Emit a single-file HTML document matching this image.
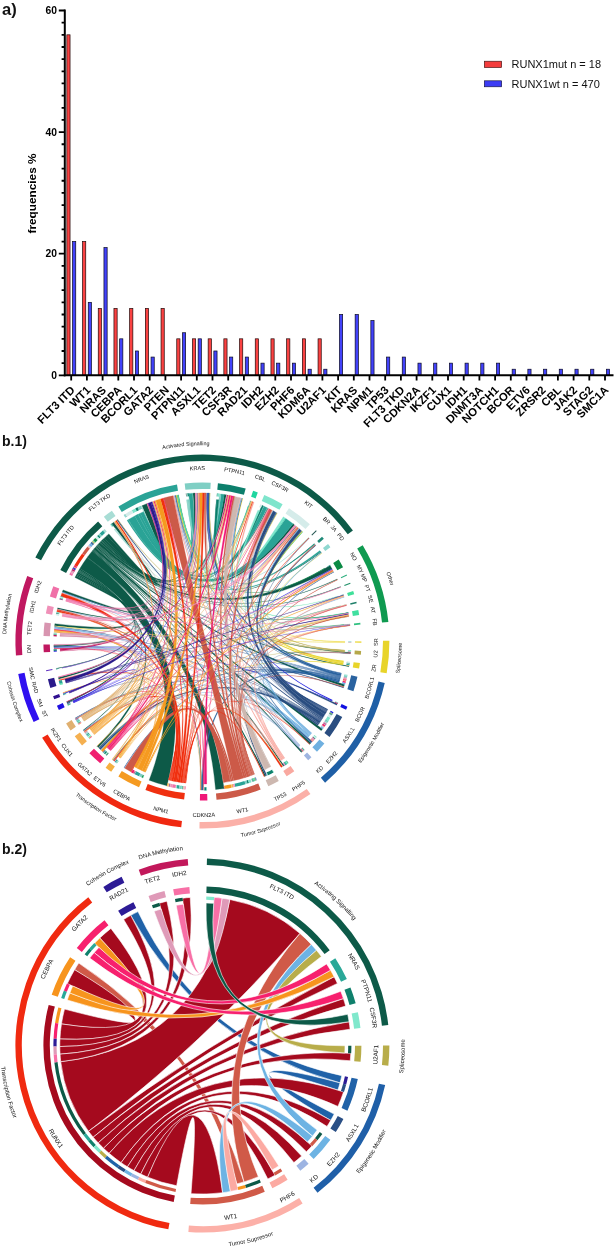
<!DOCTYPE html>
<html><head><meta charset="utf-8"><title>Figure</title>
<style>html,body{margin:0;padding:0;background:#fff}svg{display:block}</style></head>
<body>
<svg width="615" height="1248" viewBox="0 0 615 1248">
<rect width="615" height="1248" fill="#fff"/>
<g font-family="Liberation Sans, Arial, sans-serif">
<text x="2" y="14.8" font-size="16.5" font-weight="bold" fill="#111">a)</text>
<rect x="66.85" y="34.82" width="3.2" height="340.48" fill="#fa4242" stroke="#200808" stroke-width="0.7"/>
<rect x="72.55" y="241.54" width="3.2" height="133.76" fill="#4242fa" stroke="#080820" stroke-width="0.7"/>
<rect x="82.55" y="241.54" width="3.2" height="133.76" fill="#fa4242" stroke="#200808" stroke-width="0.7"/>
<rect x="88.25" y="302.34" width="3.2" height="72.96" fill="#4242fa" stroke="#080820" stroke-width="0.7"/>
<rect x="98.25" y="308.42" width="3.2" height="66.88" fill="#fa4242" stroke="#200808" stroke-width="0.7"/>
<rect x="103.95" y="247.62" width="3.2" height="127.68" fill="#4242fa" stroke="#080820" stroke-width="0.7"/>
<rect x="113.95" y="308.42" width="3.2" height="66.88" fill="#fa4242" stroke="#200808" stroke-width="0.7"/>
<rect x="119.65" y="338.82" width="3.2" height="36.48" fill="#4242fa" stroke="#080820" stroke-width="0.7"/>
<rect x="129.65" y="308.42" width="3.2" height="66.88" fill="#fa4242" stroke="#200808" stroke-width="0.7"/>
<rect x="135.35" y="350.98" width="3.2" height="24.32" fill="#4242fa" stroke="#080820" stroke-width="0.7"/>
<rect x="145.35" y="308.42" width="3.2" height="66.88" fill="#fa4242" stroke="#200808" stroke-width="0.7"/>
<rect x="151.05" y="357.06" width="3.2" height="18.24" fill="#4242fa" stroke="#080820" stroke-width="0.7"/>
<rect x="161.05" y="308.42" width="3.2" height="66.88" fill="#fa4242" stroke="#200808" stroke-width="0.7"/>
<rect x="176.75" y="338.82" width="3.2" height="36.48" fill="#fa4242" stroke="#200808" stroke-width="0.7"/>
<rect x="182.45" y="332.74" width="3.2" height="42.56" fill="#4242fa" stroke="#080820" stroke-width="0.7"/>
<rect x="192.45" y="338.82" width="3.2" height="36.48" fill="#fa4242" stroke="#200808" stroke-width="0.7"/>
<rect x="198.15" y="338.82" width="3.2" height="36.48" fill="#4242fa" stroke="#080820" stroke-width="0.7"/>
<rect x="208.15" y="338.82" width="3.2" height="36.48" fill="#fa4242" stroke="#200808" stroke-width="0.7"/>
<rect x="213.85" y="350.98" width="3.2" height="24.32" fill="#4242fa" stroke="#080820" stroke-width="0.7"/>
<rect x="223.85" y="338.82" width="3.2" height="36.48" fill="#fa4242" stroke="#200808" stroke-width="0.7"/>
<rect x="229.55" y="357.06" width="3.2" height="18.24" fill="#4242fa" stroke="#080820" stroke-width="0.7"/>
<rect x="239.55" y="338.82" width="3.2" height="36.48" fill="#fa4242" stroke="#200808" stroke-width="0.7"/>
<rect x="245.25" y="357.06" width="3.2" height="18.24" fill="#4242fa" stroke="#080820" stroke-width="0.7"/>
<rect x="255.25" y="338.82" width="3.2" height="36.48" fill="#fa4242" stroke="#200808" stroke-width="0.7"/>
<rect x="260.95" y="363.14" width="3.2" height="12.16" fill="#4242fa" stroke="#080820" stroke-width="0.7"/>
<rect x="270.95" y="338.82" width="3.2" height="36.48" fill="#fa4242" stroke="#200808" stroke-width="0.7"/>
<rect x="276.65" y="363.14" width="3.2" height="12.16" fill="#4242fa" stroke="#080820" stroke-width="0.7"/>
<rect x="286.65" y="338.82" width="3.2" height="36.48" fill="#fa4242" stroke="#200808" stroke-width="0.7"/>
<rect x="292.35" y="363.14" width="3.2" height="12.16" fill="#4242fa" stroke="#080820" stroke-width="0.7"/>
<rect x="302.35" y="338.82" width="3.2" height="36.48" fill="#fa4242" stroke="#200808" stroke-width="0.7"/>
<rect x="308.05" y="369.22" width="3.2" height="6.08" fill="#4242fa" stroke="#080820" stroke-width="0.7"/>
<rect x="318.05" y="338.82" width="3.2" height="36.48" fill="#fa4242" stroke="#200808" stroke-width="0.7"/>
<rect x="323.75" y="369.22" width="3.2" height="6.08" fill="#4242fa" stroke="#080820" stroke-width="0.7"/>
<rect x="339.45" y="314.5" width="3.2" height="60.8" fill="#4242fa" stroke="#080820" stroke-width="0.7"/>
<rect x="355.15" y="314.5" width="3.2" height="60.8" fill="#4242fa" stroke="#080820" stroke-width="0.7"/>
<rect x="370.85" y="320.58" width="3.2" height="54.72" fill="#4242fa" stroke="#080820" stroke-width="0.7"/>
<rect x="386.55" y="357.06" width="3.2" height="18.24" fill="#4242fa" stroke="#080820" stroke-width="0.7"/>
<rect x="402.25" y="357.06" width="3.2" height="18.24" fill="#4242fa" stroke="#080820" stroke-width="0.7"/>
<rect x="417.95" y="363.14" width="3.2" height="12.16" fill="#4242fa" stroke="#080820" stroke-width="0.7"/>
<rect x="433.65" y="363.14" width="3.2" height="12.16" fill="#4242fa" stroke="#080820" stroke-width="0.7"/>
<rect x="449.35" y="363.14" width="3.2" height="12.16" fill="#4242fa" stroke="#080820" stroke-width="0.7"/>
<rect x="465.05" y="363.14" width="3.2" height="12.16" fill="#4242fa" stroke="#080820" stroke-width="0.7"/>
<rect x="480.75" y="363.14" width="3.2" height="12.16" fill="#4242fa" stroke="#080820" stroke-width="0.7"/>
<rect x="496.45" y="363.14" width="3.2" height="12.16" fill="#4242fa" stroke="#080820" stroke-width="0.7"/>
<rect x="512.15" y="369.22" width="3.2" height="6.08" fill="#4242fa" stroke="#080820" stroke-width="0.7"/>
<rect x="527.85" y="369.22" width="3.2" height="6.08" fill="#4242fa" stroke="#080820" stroke-width="0.7"/>
<rect x="543.55" y="369.22" width="3.2" height="6.08" fill="#4242fa" stroke="#080820" stroke-width="0.7"/>
<rect x="559.25" y="369.22" width="3.2" height="6.08" fill="#4242fa" stroke="#080820" stroke-width="0.7"/>
<rect x="574.95" y="369.22" width="3.2" height="6.08" fill="#4242fa" stroke="#080820" stroke-width="0.7"/>
<rect x="590.65" y="369.22" width="3.2" height="6.08" fill="#4242fa" stroke="#080820" stroke-width="0.7"/>
<rect x="606.35" y="369.22" width="3.2" height="6.08" fill="#4242fa" stroke="#080820" stroke-width="0.7"/>
<path d="M64.8 9.5V376.3" stroke="#000" stroke-width="2" fill="none"/>
<path d="M63.8 375.3H613.5" stroke="#000" stroke-width="2" fill="none"/>
<path d="M64.8 375.3H58.8M64.8 363.14H61.6M64.8 350.98H61.6M64.8 338.82H61.6M64.8 326.66H61.6M64.8 314.5H61.6M64.8 302.34H61.6M64.8 290.18H61.6M64.8 278.02H61.6M64.8 265.86H61.6M64.8 253.7H58.8M64.8 241.54H61.6M64.8 229.38H61.6M64.8 217.22H61.6M64.8 205.06H61.6M64.8 192.9H61.6M64.8 180.74H61.6M64.8 168.58H61.6M64.8 156.42H61.6M64.8 144.26H61.6M64.8 132.1H58.8M64.8 119.94H61.6M64.8 107.78H61.6M64.8 95.62H61.6M64.8 83.46H61.6M64.8 71.3H61.6M64.8 59.14H61.6M64.8 46.98H61.6M64.8 34.82H61.6M64.8 22.66H61.6M64.8 10.5H58.8" stroke="#000" stroke-width="1.8" fill="none"/>
<path d="M71.2 375.3V380.5M86.9 375.3V380.5M102.6 375.3V380.5M118.3 375.3V380.5M134 375.3V380.5M149.7 375.3V380.5M165.4 375.3V380.5M181.1 375.3V380.5M196.8 375.3V380.5M212.5 375.3V380.5M228.2 375.3V380.5M243.9 375.3V380.5M259.6 375.3V380.5M275.3 375.3V380.5M291 375.3V380.5M306.7 375.3V380.5M322.4 375.3V380.5M338.1 375.3V380.5M353.8 375.3V380.5M369.5 375.3V380.5M385.2 375.3V380.5M400.9 375.3V380.5M416.6 375.3V380.5M432.3 375.3V380.5M448 375.3V380.5M463.7 375.3V380.5M479.4 375.3V380.5M495.1 375.3V380.5M510.8 375.3V380.5M526.5 375.3V380.5M542.2 375.3V380.5M557.9 375.3V380.5M573.6 375.3V380.5M589.3 375.3V380.5M605 375.3V380.5" stroke="#000" stroke-width="1.8" fill="none"/>
<text x="57" y="379" font-size="10.3" font-weight="bold" text-anchor="end" fill="#000">0</text>
<text x="57" y="257.4" font-size="10.3" font-weight="bold" text-anchor="end" fill="#000">20</text>
<text x="57" y="135.8" font-size="10.3" font-weight="bold" text-anchor="end" fill="#000">40</text>
<text x="57" y="14.2" font-size="10.3" font-weight="bold" text-anchor="end" fill="#000">60</text>
<text transform="translate(35.6 193.5) rotate(-90)" font-size="11.8" font-weight="bold" text-anchor="middle" fill="#000">frequencies %</text>
<text transform="translate(75.5 390.8) rotate(-45)" font-size="11.3" font-weight="bold" text-anchor="end" fill="#000">FLT3 ITD</text>
<text transform="translate(91.2 390.8) rotate(-45)" font-size="11.3" font-weight="bold" text-anchor="end" fill="#000">WT1</text>
<text transform="translate(106.9 390.8) rotate(-45)" font-size="11.3" font-weight="bold" text-anchor="end" fill="#000">NRAS</text>
<text transform="translate(122.6 390.8) rotate(-45)" font-size="11.3" font-weight="bold" text-anchor="end" fill="#000">CEBPA</text>
<text transform="translate(138.3 390.8) rotate(-45)" font-size="11.3" font-weight="bold" text-anchor="end" fill="#000">BCORL1</text>
<text transform="translate(154 390.8) rotate(-45)" font-size="11.3" font-weight="bold" text-anchor="end" fill="#000">GATA2</text>
<text transform="translate(169.7 390.8) rotate(-45)" font-size="11.3" font-weight="bold" text-anchor="end" fill="#000">PTEN</text>
<text transform="translate(185.4 390.8) rotate(-45)" font-size="11.3" font-weight="bold" text-anchor="end" fill="#000">PTPN11</text>
<text transform="translate(201.1 390.8) rotate(-45)" font-size="11.3" font-weight="bold" text-anchor="end" fill="#000">ASXL1</text>
<text transform="translate(216.8 390.8) rotate(-45)" font-size="11.3" font-weight="bold" text-anchor="end" fill="#000">TET2</text>
<text transform="translate(232.5 390.8) rotate(-45)" font-size="11.3" font-weight="bold" text-anchor="end" fill="#000">CSF3R</text>
<text transform="translate(248.2 390.8) rotate(-45)" font-size="11.3" font-weight="bold" text-anchor="end" fill="#000">RAD21</text>
<text transform="translate(263.9 390.8) rotate(-45)" font-size="11.3" font-weight="bold" text-anchor="end" fill="#000">IDH2</text>
<text transform="translate(279.6 390.8) rotate(-45)" font-size="11.3" font-weight="bold" text-anchor="end" fill="#000">EZH2</text>
<text transform="translate(295.3 390.8) rotate(-45)" font-size="11.3" font-weight="bold" text-anchor="end" fill="#000">PHF6</text>
<text transform="translate(311 390.8) rotate(-45)" font-size="11.3" font-weight="bold" text-anchor="end" fill="#000">KDM6A</text>
<text transform="translate(326.7 390.8) rotate(-45)" font-size="11.3" font-weight="bold" text-anchor="end" fill="#000">U2AF1</text>
<text transform="translate(342.4 390.8) rotate(-45)" font-size="11.3" font-weight="bold" text-anchor="end" fill="#000">KIT</text>
<text transform="translate(358.1 390.8) rotate(-45)" font-size="11.3" font-weight="bold" text-anchor="end" fill="#000">KRAS</text>
<text transform="translate(373.8 390.8) rotate(-45)" font-size="11.3" font-weight="bold" text-anchor="end" fill="#000">NPM1</text>
<text transform="translate(389.5 390.8) rotate(-45)" font-size="11.3" font-weight="bold" text-anchor="end" fill="#000">TP53</text>
<text transform="translate(405.2 390.8) rotate(-45)" font-size="11.3" font-weight="bold" text-anchor="end" fill="#000">FLT3 TKD</text>
<text transform="translate(420.9 390.8) rotate(-45)" font-size="11.3" font-weight="bold" text-anchor="end" fill="#000">CDKN2A</text>
<text transform="translate(436.6 390.8) rotate(-45)" font-size="11.3" font-weight="bold" text-anchor="end" fill="#000">IKZF1</text>
<text transform="translate(452.3 390.8) rotate(-45)" font-size="11.3" font-weight="bold" text-anchor="end" fill="#000">CUX1</text>
<text transform="translate(468 390.8) rotate(-45)" font-size="11.3" font-weight="bold" text-anchor="end" fill="#000">IDH1</text>
<text transform="translate(483.7 390.8) rotate(-45)" font-size="11.3" font-weight="bold" text-anchor="end" fill="#000">DNMT3A</text>
<text transform="translate(499.4 390.8) rotate(-45)" font-size="11.3" font-weight="bold" text-anchor="end" fill="#000">NOTCH1</text>
<text transform="translate(515.1 390.8) rotate(-45)" font-size="11.3" font-weight="bold" text-anchor="end" fill="#000">BCOR</text>
<text transform="translate(530.8 390.8) rotate(-45)" font-size="11.3" font-weight="bold" text-anchor="end" fill="#000">ETV6</text>
<text transform="translate(546.5 390.8) rotate(-45)" font-size="11.3" font-weight="bold" text-anchor="end" fill="#000">ZRSR2</text>
<text transform="translate(562.2 390.8) rotate(-45)" font-size="11.3" font-weight="bold" text-anchor="end" fill="#000">CBL</text>
<text transform="translate(577.9 390.8) rotate(-45)" font-size="11.3" font-weight="bold" text-anchor="end" fill="#000">JAK2</text>
<text transform="translate(593.6 390.8) rotate(-45)" font-size="11.3" font-weight="bold" text-anchor="end" fill="#000">STAG2</text>
<text transform="translate(609.3 390.8) rotate(-45)" font-size="11.3" font-weight="bold" text-anchor="end" fill="#000">SMC1A</text>
<rect x="484.3" y="61.2" width="17.4" height="6.4" fill="#f43c3c" stroke="#301010" stroke-width="0.6"/>
<rect x="484.3" y="80.8" width="17.4" height="6.0" fill="#3c3cf4" stroke="#101030" stroke-width="0.6"/>
<text x="511.5" y="68.3" font-size="11" fill="#111">RUNX1mut n = 18</text>
<text x="511.5" y="87.7" font-size="11" fill="#111">RUNX1wt n = 470</text>
</g>
<text x="2" y="445.8" font-size="14" font-weight="bold" font-family="Liberation Sans, Arial, sans-serif" fill="#111">b.1)</text>
<text x="2" y="854.3" font-size="14" font-weight="bold" font-family="Liberation Sans, Arial, sans-serif" fill="#111">b.2)</text>
<path d="M107.15 535.38A142.6 142.6 0 0 1 108.85 533.88Q202.4 641.5 111.77 523.73A148.6 148.6 0 0 1 113.88 522.14Q202.4 641.5 107.15 535.38Z" fill="#0d5a48" stroke="#0d5a48" stroke-width="0.3"/>
<path d="M104.1 538.2A142.6 142.6 0 0 1 107.15 535.38Q202.4 641.5 141.87 505.79A148.6 148.6 0 0 1 146.74 503.72Q202.4 641.5 104.1 538.2Z" fill="#0d5a48" stroke="#0d5a48" stroke-width="0.3"/>
<path d="M102.74 539.51A142.6 142.6 0 0 1 104.1 538.2Q202.4 641.5 192.94 493.2A148.6 148.6 0 0 1 195.04 493.08Q202.4 641.5 102.74 539.51Z" fill="#0d5a48" stroke="#0d5a48" stroke-width="0.3"/>
<path d="M101.66 540.57A142.6 142.6 0 0 1 102.74 539.51Q202.4 641.5 224.25 494.52A148.6 148.6 0 0 1 226.34 494.84Q202.4 641.5 101.66 540.57Z" fill="#0d5a48" stroke="#0d5a48" stroke-width="0.3"/>
<path d="M101.13 541.1A142.6 142.6 0 0 1 101.66 540.57Q202.4 641.5 267.59 507.96A148.6 148.6 0 0 1 268.32 508.32Q202.4 641.5 101.13 541.1Z" fill="#0d5a48" stroke="#0d5a48" stroke-width="0.12"/>
<path d="M100.07 542.18A142.6 142.6 0 0 1 101.13 541.1Q202.4 641.5 293 523.71A148.6 148.6 0 0 1 294.5 524.88Q202.4 641.5 100.07 542.18Z" fill="#0d5a48" stroke="#0d5a48" stroke-width="0.3"/>
<path d="M99.81 542.45A142.6 142.6 0 0 1 100.07 542.18Q202.4 641.5 320.92 551.86A148.6 148.6 0 0 1 321.29 552.35Q202.4 641.5 99.81 542.45Z" fill="#0d5a48" stroke="#0d5a48" stroke-width="0.12"/>
<path d="M97.99 544.37A142.6 142.6 0 0 1 99.81 542.45Q202.4 641.5 330.12 565.54A148.6 148.6 0 0 1 332.03 568.84Q202.4 641.5 97.99 544.37Z" fill="#0d5a48" stroke="#0d5a48" stroke-width="0.3"/>
<path d="M97.74 544.65A142.6 142.6 0 0 1 97.99 544.37Q202.4 641.5 337.19 578.93A148.6 148.6 0 0 1 337.4 579.4Q202.4 641.5 97.74 544.65Z" fill="#0d5a48" stroke="#0d5a48" stroke-width="0.12"/>
<path d="M97.48 544.93A142.6 142.6 0 0 1 97.74 544.65Q202.4 641.5 340.47 586.56A148.6 148.6 0 0 1 340.66 587.04Q202.4 641.5 97.48 544.93Z" fill="#0d5a48" stroke="#0d5a48" stroke-width="0.12"/>
<path d="M97.23 545.2A142.6 142.6 0 0 1 97.48 544.93Q202.4 641.5 348.16 612.59A148.6 148.6 0 0 1 348.26 613.1Q202.4 641.5 97.23 545.2Z" fill="#0d5a48" stroke="#0d5a48" stroke-width="0.12"/>
<path d="M96.72 545.76A142.6 142.6 0 0 1 97.23 545.2Q202.4 641.5 350.59 652.49A148.6 148.6 0 0 1 350.54 653.21Q202.4 641.5 96.72 545.76Z" fill="#0d5a48" stroke="#0d5a48" stroke-width="0.12"/>
<path d="M96.46 546.04A142.6 142.6 0 0 1 96.72 545.76Q202.4 641.5 348.96 666.03A148.6 148.6 0 0 1 348.83 666.79Q202.4 641.5 96.46 546.04Z" fill="#0d5a48" stroke="#0d5a48" stroke-width="0.12"/>
<path d="M95.71 546.89A142.6 142.6 0 0 1 96.46 546.04Q202.4 641.5 344.62 684.57A148.6 148.6 0 0 1 344 686.58Q202.4 641.5 95.71 546.89Z" fill="#0d5a48" stroke="#0d5a48" stroke-width="0.12"/>
<path d="M95.21 547.45A142.6 142.6 0 0 1 95.71 546.89Q202.4 641.5 322.54 728.95A148.6 148.6 0 0 1 321.23 730.72Q202.4 641.5 95.21 547.45Z" fill="#0d5a48" stroke="#0d5a48" stroke-width="0.12"/>
<path d="M93.73 549.17A142.6 142.6 0 0 1 95.21 547.45Q202.4 641.5 311 742.93A148.6 148.6 0 0 1 309.86 744.14Q202.4 641.5 93.73 549.17Z" fill="#0d5a48" stroke="#0d5a48" stroke-width="0.3"/>
<path d="M93.24 549.74A142.6 142.6 0 0 1 93.73 549.17Q202.4 641.5 302.08 751.71A148.6 148.6 0 0 1 301.25 752.45Q202.4 641.5 93.24 549.74Z" fill="#0d5a48" stroke="#0d5a48" stroke-width="0.12"/>
<path d="M92.76 550.32A142.6 142.6 0 0 1 93.24 549.74Q202.4 641.5 284.03 765.67A148.6 148.6 0 0 1 283.07 766.3Q202.4 641.5 92.76 550.32Z" fill="#0d5a48" stroke="#0d5a48" stroke-width="0.12"/>
<path d="M92.28 550.91A142.6 142.6 0 0 1 92.76 550.32Q202.4 641.5 265.8 775.9A148.6 148.6 0 0 1 264.62 776.45Q202.4 641.5 92.28 550.91Z" fill="#0d5a48" stroke="#0d5a48" stroke-width="0.12"/>
<path d="M87.41 557.16A142.6 142.6 0 0 1 92.28 550.91Q202.4 641.5 224.06 788.51A148.6 148.6 0 0 1 215.61 789.51Q202.4 641.5 87.41 557.16Z" fill="#0d5a48" stroke="#0d5a48" stroke-width="0.3"/>
<path d="M87.19 557.47A142.6 142.6 0 0 1 87.41 557.16Q202.4 641.5 201.57 790.1A148.6 148.6 0 0 1 201.07 790.09Q202.4 641.5 87.19 557.47Z" fill="#0d5a48" stroke="#0d5a48" stroke-width="0.12"/>
<path d="M79.91 568.49A142.6 142.6 0 0 1 87.19 557.47Q202.4 641.5 166.95 785.81A148.6 148.6 0 0 1 149.15 780.23Q202.4 641.5 79.91 568.49Z" fill="#0d5a48" stroke="#0d5a48" stroke-width="0.3"/>
<path d="M79.14 569.79A142.6 142.6 0 0 1 79.91 568.49Q202.4 641.5 98.31 747.56A148.6 148.6 0 0 1 97.08 746.33Q202.4 641.5 79.14 569.79Z" fill="#0d5a48" stroke="#0d5a48" stroke-width="0.3"/>
<path d="M78.76 570.45A142.6 142.6 0 0 1 79.14 569.79Q202.4 641.5 83.46 730.58A148.6 148.6 0 0 1 83.1 730.1Q202.4 641.5 78.76 570.45Z" fill="#0d5a48" stroke="#0d5a48" stroke-width="0.12"/>
<path d="M78.39 571.1A142.6 142.6 0 0 1 78.76 570.45Q202.4 641.5 67.11 702.98A148.6 148.6 0 0 1 66.66 701.97Q202.4 641.5 78.39 571.1Z" fill="#0d5a48" stroke="#0d5a48" stroke-width="0.12"/>
<path d="M78.02 571.76A142.6 142.6 0 0 1 78.39 571.1Q202.4 641.5 58.66 679.18A148.6 148.6 0 0 1 58.23 677.53Q202.4 641.5 78.02 571.76Z" fill="#0d5a48" stroke="#0d5a48" stroke-width="0.12"/>
<path d="M77.83 572.09A142.6 142.6 0 0 1 78.02 571.76Q202.4 641.5 56.34 668.84A148.6 148.6 0 0 1 56.24 668.33Q202.4 641.5 77.83 572.09Z" fill="#0d5a48" stroke="#0d5a48" stroke-width="0.12"/>
<path d="M77.1 573.41A142.6 142.6 0 0 1 77.83 572.09Q202.4 641.5 53.89 646.71A148.6 148.6 0 0 1 53.85 645.36Q202.4 641.5 77.1 573.41Z" fill="#0d5a48" stroke="#0d5a48" stroke-width="0.3"/>
<path d="M76.39 574.74A142.6 142.6 0 0 1 77.1 573.41Q202.4 641.5 54.63 625.86A148.6 148.6 0 0 1 54.88 623.65Q202.4 641.5 76.39 574.74Z" fill="#0d5a48" stroke="#0d5a48" stroke-width="0.3"/>
<path d="M75.86 575.75A142.6 142.6 0 0 1 76.39 574.74Q202.4 641.5 57.46 608.71A148.6 148.6 0 0 1 57.67 607.82Q202.4 641.5 75.86 575.75Z" fill="#0d5a48" stroke="#0d5a48" stroke-width="0.12"/>
<path d="M75.01 577.43A142.6 142.6 0 0 1 75.86 575.75Q202.4 641.5 62.37 591.76A148.6 148.6 0 0 1 63.03 589.95Q202.4 641.5 75.01 577.43Z" fill="#0d5a48" stroke="#0d5a48" stroke-width="0.3"/>
<path d="M114.72 529.04A142.6 142.6 0 0 1 115.43 528.49Q202.4 641.5 140.99 506.18A148.6 148.6 0 0 1 141.87 505.79Q202.4 641.5 114.72 529.04Z" fill="#a8ddd5" stroke="#a8ddd5" stroke-width="0.12"/>
<path d="M114.37 529.31A142.6 142.6 0 0 1 114.72 529.04Q202.4 641.5 192.52 493.23A148.6 148.6 0 0 1 192.94 493.2Q202.4 641.5 114.37 529.31Z" fill="#a8ddd5" stroke="#a8ddd5" stroke-width="0.12"/>
<path d="M114.02 529.59A142.6 142.6 0 0 1 114.37 529.31Q202.4 641.5 267.22 507.78A148.6 148.6 0 0 1 267.59 507.96Q202.4 641.5 114.02 529.59Z" fill="#a8ddd5" stroke="#a8ddd5" stroke-width="0.12"/>
<path d="M140.31 513.13A142.6 142.6 0 0 1 143.47 511.65Q202.4 641.5 188.75 493.53A148.6 148.6 0 0 1 192.52 493.23Q202.4 641.5 140.31 513.13Z" fill="#2aa396" stroke="#2aa396" stroke-width="0.3"/>
<path d="M138.22 514.16A142.6 142.6 0 0 1 140.31 513.13Q202.4 641.5 221.11 494.08A148.6 148.6 0 0 1 224.25 494.52Q202.4 641.5 138.22 514.16Z" fill="#2aa396" stroke="#2aa396" stroke-width="0.3"/>
<path d="M137.87 514.34A142.6 142.6 0 0 1 138.22 514.16Q202.4 641.5 250.24 500.81A148.6 148.6 0 0 1 250.9 501.04Q202.4 641.5 137.87 514.34Z" fill="#2aa396" stroke="#2aa396" stroke-width="0.12"/>
<path d="M134.77 515.96A142.6 142.6 0 0 1 137.87 514.34Q202.4 641.5 263.86 506.21A148.6 148.6 0 0 1 267.22 507.78Q202.4 641.5 134.77 515.96Z" fill="#2aa396" stroke="#2aa396" stroke-width="0.3"/>
<path d="M128.37 519.62A142.6 142.6 0 0 1 134.77 515.96Q202.4 641.5 285.7 518.44A148.6 148.6 0 0 1 293 523.71Q202.4 641.5 128.37 519.62Z" fill="#2aa396" stroke="#2aa396" stroke-width="0.3"/>
<path d="M128.04 519.82A142.6 142.6 0 0 1 128.37 519.62Q202.4 641.5 314.63 544.11A148.6 148.6 0 0 1 315.06 544.6Q202.4 641.5 128.04 519.82Z" fill="#2aa396" stroke="#2aa396" stroke-width="0.12"/>
<path d="M127.04 520.44A142.6 142.6 0 0 1 128.04 519.82Q202.4 641.5 319.82 550.42A148.6 148.6 0 0 1 320.92 551.86Q202.4 641.5 127.04 520.44Z" fill="#2aa396" stroke="#2aa396" stroke-width="0.12"/>
<path d="M187.9 499.64A142.6 142.6 0 0 1 189.3 499.5Q202.4 641.5 219.53 493.89A148.6 148.6 0 0 1 221.11 494.08Q202.4 641.5 187.9 499.64Z" fill="#7fcfc4" stroke="#7fcfc4" stroke-width="0.3"/>
<path d="M187.43 499.69A142.6 142.6 0 0 1 187.9 499.64Q202.4 641.5 263.49 506.04A148.6 148.6 0 0 1 263.86 506.21Q202.4 641.5 187.43 499.69Z" fill="#7fcfc4" stroke="#7fcfc4" stroke-width="0.12"/>
<path d="M186.97 499.74A142.6 142.6 0 0 1 187.43 499.69Q202.4 641.5 285.31 518.18A148.6 148.6 0 0 1 285.7 518.44Q202.4 641.5 186.97 499.74Z" fill="#7fcfc4" stroke="#7fcfc4" stroke-width="0.12"/>
<path d="M186.5 499.79A142.6 142.6 0 0 1 186.97 499.74Q202.4 641.5 308.57 537.53A148.6 148.6 0 0 1 308.81 537.78Q202.4 641.5 186.5 499.79Z" fill="#7fcfc4" stroke="#7fcfc4" stroke-width="0.12"/>
<path d="M216.82 499.63A142.6 142.6 0 0 1 218.84 499.85Q202.4 641.5 261.99 505.37A148.6 148.6 0 0 1 263.49 506.04Q202.4 641.5 216.82 499.63Z" fill="#0d7f6c" stroke="#0d7f6c" stroke-width="0.3"/>
<path d="M216.32 499.58A142.6 142.6 0 0 1 216.82 499.63Q202.4 641.5 314.21 543.62A148.6 148.6 0 0 1 314.63 544.11Q202.4 641.5 216.32 499.58Z" fill="#0d7f6c" stroke="#0d7f6c" stroke-width="0.12"/>
<path d="M247.88 506.35A142.6 142.6 0 0 1 248.31 506.49Q202.4 641.5 284.92 517.92A148.6 148.6 0 0 1 285.31 518.18Q202.4 641.5 247.88 506.35Z" fill="#1fd6a0" stroke="#1fd6a0" stroke-width="0.12"/>
<path d="M257.89 510.14A142.6 142.6 0 0 1 259.58 510.87Q202.4 641.5 283.33 516.87A148.6 148.6 0 0 1 284.92 517.92Q202.4 641.5 257.89 510.14Z" fill="#7fe5cc" stroke="#7fe5cc" stroke-width="0.3"/>
<path d="M324.63 568.06A142.6 142.6 0 0 1 324.96 568.6Q202.4 641.5 178.17 494.89A148.6 148.6 0 0 1 178.64 494.81Q202.4 641.5 324.63 568.06Z" fill="#0b8a45" stroke="#0b8a45" stroke-width="0.12"/>
<path d="M337.63 596.25A142.6 142.6 0 0 1 337.73 596.54Q202.4 641.5 177.69 494.97A148.6 148.6 0 0 1 178.17 494.89Q202.4 641.5 337.63 596.25Z" fill="#3fe09a" stroke="#3fe09a" stroke-width="0.12"/>
<path d="M340.46 605.8A142.6 142.6 0 0 1 340.5 605.94Q202.4 641.5 349.98 624.09A148.6 148.6 0 0 1 350.01 624.36Q202.4 641.5 340.46 605.8Z" fill="#20806a" stroke="#20806a" stroke-width="0.12"/>
<path d="M342.19 613.31A142.6 142.6 0 0 1 342.27 613.75Q202.4 641.5 177.22 495.05A148.6 148.6 0 0 1 177.69 494.97Q202.4 641.5 342.19 613.31Z" fill="#40e0a0" stroke="#40e0a0" stroke-width="0.12"/>
<path d="M344.01 624.7A142.6 142.6 0 0 1 344.02 624.79Q202.4 641.5 176.74 495.13A148.6 148.6 0 0 1 177.22 495.05Q202.4 641.5 344.01 624.7Z" fill="#30c080" stroke="#30c080" stroke-width="0.12"/>
<path d="M344 624.62A142.6 142.6 0 0 1 344.01 624.7Q202.4 641.5 302.44 531.62A148.6 148.6 0 0 1 302.79 531.94Q202.4 641.5 344 624.62Z" fill="#30c080" stroke="#30c080" stroke-width="0.12"/>
<path d="M345 641.75A142.6 142.6 0 0 1 345 642.25Q202.4 641.5 277.02 512.99A148.6 148.6 0 0 1 277.37 513.2Q202.4 641.5 345 641.75Z" fill="#f0e060" stroke="#f0e060" stroke-width="0.12"/>
<path d="M345 641.25A142.6 142.6 0 0 1 345 641.75Q202.4 641.5 321.65 552.83A148.6 148.6 0 0 1 322.01 553.32Q202.4 641.5 345 641.25Z" fill="#f0e060" stroke="#f0e060" stroke-width="0.12"/>
<path d="M345 642.25A142.6 142.6 0 0 1 344.99 642.74Q202.4 641.5 54.57 626.41A148.6 148.6 0 0 1 54.63 625.86Q202.4 641.5 345 642.25Z" fill="#f0e060" stroke="#f0e060" stroke-width="0.12"/>
<path d="M344.67 651.21A142.6 142.6 0 0 1 344.64 651.63Q202.4 641.5 117.44 519.58A148.6 148.6 0 0 1 117.81 519.33Q202.4 641.5 344.67 651.21Z" fill="#b5a84a" stroke="#b5a84a" stroke-width="0.12"/>
<path d="M344.7 650.79A142.6 142.6 0 0 1 344.67 651.21Q202.4 641.5 209.76 493.08A148.6 148.6 0 0 1 210.18 493.1Q202.4 641.5 344.7 650.79Z" fill="#b5a84a" stroke="#b5a84a" stroke-width="0.12"/>
<path d="M344.72 650.37A142.6 142.6 0 0 1 344.7 650.79Q202.4 641.5 276.66 512.79A148.6 148.6 0 0 1 277.02 512.99Q202.4 641.5 344.72 650.37Z" fill="#b5a84a" stroke="#b5a84a" stroke-width="0.12"/>
<path d="M344.75 649.96A142.6 142.6 0 0 1 344.72 650.37Q202.4 641.5 348.83 616.2A148.6 148.6 0 0 1 348.92 616.72Q202.4 641.5 344.75 649.96Z" fill="#b5a84a" stroke="#b5a84a" stroke-width="0.12"/>
<path d="M344.64 651.63A142.6 142.6 0 0 1 344.61 652.04Q202.4 641.5 98.62 747.86A148.6 148.6 0 0 1 98.31 747.56Q202.4 641.5 344.64 651.63Z" fill="#b5a84a" stroke="#b5a84a" stroke-width="0.12"/>
<path d="M343.33 663.25A142.6 142.6 0 0 1 343.14 664.44Q202.4 641.5 175.8 495.3A148.6 148.6 0 0 1 176.74 495.13Q202.4 641.5 343.33 663.25Z" fill="#e8d42a" stroke="#e8d42a" stroke-width="0.12"/>
<path d="M343.42 662.65A142.6 142.6 0 0 1 343.33 663.25Q202.4 641.5 209.34 493.06A148.6 148.6 0 0 1 209.76 493.08Q202.4 641.5 343.42 662.65Z" fill="#e8d42a" stroke="#e8d42a" stroke-width="0.12"/>
<path d="M343.51 662.05A142.6 142.6 0 0 1 343.42 662.65Q202.4 641.5 242.35 498.37A148.6 148.6 0 0 1 242.86 498.51Q202.4 641.5 343.51 662.05Z" fill="#e8d42a" stroke="#e8d42a" stroke-width="0.12"/>
<path d="M343.68 660.85A142.6 142.6 0 0 1 343.51 662.05Q202.4 641.5 301.74 530.99A148.6 148.6 0 0 1 302.44 531.62Q202.4 641.5 343.68 660.85Z" fill="#e8d42a" stroke="#e8d42a" stroke-width="0.12"/>
<path d="M343.14 664.44A142.6 142.6 0 0 1 343.04 665.04Q202.4 641.5 113.04 760.23A148.6 148.6 0 0 1 112.67 759.95Q202.4 641.5 343.14 664.44Z" fill="#e8d42a" stroke="#e8d42a" stroke-width="0.12"/>
<path d="M340.74 676.08A142.6 142.6 0 0 1 340.64 676.5Q202.4 641.5 175.32 495.39A148.6 148.6 0 0 1 175.8 495.3Q202.4 641.5 340.74 676.08Z" fill="#2a63a0" stroke="#2a63a0" stroke-width="0.12"/>
<path d="M341.16 674.37A142.6 142.6 0 0 1 340.74 676.08Q202.4 641.5 207.66 492.99A148.6 148.6 0 0 1 209.34 493.06Q202.4 641.5 341.16 674.37Z" fill="#2a63a0" stroke="#2a63a0" stroke-width="0.3"/>
<path d="M341.36 673.52A142.6 142.6 0 0 1 341.16 674.37Q202.4 641.5 275.95 512.38A148.6 148.6 0 0 1 276.66 512.79Q202.4 641.5 341.36 673.52Z" fill="#2a63a0" stroke="#2a63a0" stroke-width="0.12"/>
<path d="M341.46 673.09A142.6 142.6 0 0 1 341.36 673.52Q202.4 641.5 301.39 530.67A148.6 148.6 0 0 1 301.74 530.99Q202.4 641.5 341.46 673.09Z" fill="#2a63a0" stroke="#2a63a0" stroke-width="0.12"/>
<path d="M339.38 681.15A142.6 142.6 0 0 1 338.88 682.84Q202.4 641.5 311.75 742.12A148.6 148.6 0 0 1 311 742.93Q202.4 641.5 339.38 681.15Z" fill="#2a63a0" stroke="#2a63a0" stroke-width="0.12"/>
<path d="M339.74 679.89A142.6 142.6 0 0 1 339.38 681.15Q202.4 641.5 203.07 790.1A148.6 148.6 0 0 1 201.57 790.1Q202.4 641.5 339.74 679.89Z" fill="#2a63a0" stroke="#2a63a0" stroke-width="0.3"/>
<path d="M339.85 679.47A142.6 142.6 0 0 1 339.74 679.89Q202.4 641.5 124.34 767.94A148.6 148.6 0 0 1 123.87 767.66Q202.4 641.5 339.85 679.47Z" fill="#2a63a0" stroke="#2a63a0" stroke-width="0.12"/>
<path d="M339.97 679.04A142.6 142.6 0 0 1 339.85 679.47Q202.4 641.5 113.41 760.51A148.6 148.6 0 0 1 113.04 760.23Q202.4 641.5 339.97 679.04Z" fill="#2a63a0" stroke="#2a63a0" stroke-width="0.12"/>
<path d="M340.2 678.2A142.6 142.6 0 0 1 339.97 679.04Q202.4 641.5 99.25 748.46A148.6 148.6 0 0 1 98.62 747.86Q202.4 641.5 340.2 678.2Z" fill="#2a63a0" stroke="#2a63a0" stroke-width="0.12"/>
<path d="M340.31 677.77A142.6 142.6 0 0 1 340.2 678.2Q202.4 641.5 83.64 730.83A148.6 148.6 0 0 1 83.46 730.58Q202.4 641.5 340.31 677.77Z" fill="#2a63a0" stroke="#2a63a0" stroke-width="0.12"/>
<path d="M340.42 677.35A142.6 142.6 0 0 1 340.31 677.77Q202.4 641.5 53.9 647.05A148.6 148.6 0 0 1 53.89 646.71Q202.4 641.5 340.42 677.35Z" fill="#2a63a0" stroke="#2a63a0" stroke-width="0.12"/>
<path d="M340.53 676.93A142.6 142.6 0 0 1 340.42 677.35Q202.4 641.5 57.39 609.01A148.6 148.6 0 0 1 57.46 608.71Q202.4 641.5 340.53 676.93Z" fill="#2a63a0" stroke="#2a63a0" stroke-width="0.12"/>
<path d="M340.64 676.5A142.6 142.6 0 0 1 340.53 676.93Q202.4 641.5 62.24 592.13A148.6 148.6 0 0 1 62.37 591.76Q202.4 641.5 340.64 676.5Z" fill="#2a63a0" stroke="#2a63a0" stroke-width="0.12"/>
<path d="M332.47 699.96A142.6 142.6 0 0 1 332.16 700.64Q202.4 641.5 207.24 492.98A148.6 148.6 0 0 1 207.66 492.99Q202.4 641.5 332.47 699.96Z" fill="#1010e0" stroke="#1010e0" stroke-width="0.12"/>
<path d="M332.16 700.64A142.6 142.6 0 0 1 331.85 701.31Q202.4 641.5 53.92 647.39A148.6 148.6 0 0 1 53.9 647.05Q202.4 641.5 332.16 700.64Z" fill="#1010e0" stroke="#1010e0" stroke-width="0.12"/>
<path d="M321.91 719.3A142.6 142.6 0 0 1 321.4 720.08Q202.4 641.5 116.72 520.08A148.6 148.6 0 0 1 117.44 519.58Q202.4 641.5 321.91 719.3Z" fill="#2a4d80" stroke="#2a4d80" stroke-width="0.12"/>
<path d="M322.16 718.91A142.6 142.6 0 0 1 321.91 719.3Q202.4 641.5 174.85 495.48A148.6 148.6 0 0 1 175.32 495.39Q202.4 641.5 322.16 718.91Z" fill="#2a4d80" stroke="#2a4d80" stroke-width="0.12"/>
<path d="M322.66 718.13A142.6 142.6 0 0 1 322.16 718.91Q202.4 641.5 206.39 492.95A148.6 148.6 0 0 1 207.24 492.98Q202.4 641.5 322.66 718.13Z" fill="#2a4d80" stroke="#2a4d80" stroke-width="0.12"/>
<path d="M322.91 717.74A142.6 142.6 0 0 1 322.66 718.13Q202.4 641.5 241.84 498.23A148.6 148.6 0 0 1 242.35 498.37Q202.4 641.5 322.91 717.74Z" fill="#2a4d80" stroke="#2a4d80" stroke-width="0.12"/>
<path d="M324.86 714.57A142.6 142.6 0 0 1 322.91 717.74Q202.4 641.5 273.07 510.78A148.6 148.6 0 0 1 275.95 512.38Q202.4 641.5 324.86 714.57Z" fill="#2a4d80" stroke="#2a4d80" stroke-width="0.3"/>
<path d="M326.26 712.17A142.6 142.6 0 0 1 324.86 714.57Q202.4 641.5 299.25 528.8A148.6 148.6 0 0 1 301.39 530.67Q202.4 641.5 326.26 712.17Z" fill="#2a4d80" stroke="#2a4d80" stroke-width="0.3"/>
<path d="M326.49 711.76A142.6 142.6 0 0 1 326.26 712.17Q202.4 641.5 309.05 538.03A148.6 148.6 0 0 1 309.29 538.27Q202.4 641.5 326.49 711.76Z" fill="#2a4d80" stroke="#2a4d80" stroke-width="0.12"/>
<path d="M326.72 711.36A142.6 142.6 0 0 1 326.49 711.76Q202.4 641.5 315.48 545.09A148.6 148.6 0 0 1 315.9 545.58Q202.4 641.5 326.72 711.36Z" fill="#2a4d80" stroke="#2a4d80" stroke-width="0.12"/>
<path d="M326.94 710.95A142.6 142.6 0 0 1 326.72 711.36Q202.4 641.5 333.59 571.71A148.6 148.6 0 0 1 333.85 572.19Q202.4 641.5 326.94 710.95Z" fill="#2a4d80" stroke="#2a4d80" stroke-width="0.12"/>
<path d="M327.17 710.55A142.6 142.6 0 0 1 326.94 710.95Q202.4 641.5 350.51 653.57A148.6 148.6 0 0 1 350.48 653.93Q202.4 641.5 327.17 710.55Z" fill="#2a4d80" stroke="#2a4d80" stroke-width="0.12"/>
<path d="M327.39 710.14A142.6 142.6 0 0 1 327.17 710.55Q202.4 641.5 343.78 687.25A148.6 148.6 0 0 1 343.57 687.91Q202.4 641.5 327.39 710.14Z" fill="#2a4d80" stroke="#2a4d80" stroke-width="0.12"/>
<path d="M327.84 709.32A142.6 142.6 0 0 1 327.39 710.14Q202.4 641.5 337.3 703.83A148.6 148.6 0 0 1 336.64 705.24Q202.4 641.5 327.84 709.32Z" fill="#2a4d80" stroke="#2a4d80" stroke-width="0.12"/>
<path d="M318.51 724.29A142.6 142.6 0 0 1 317.69 725.42Q202.4 641.5 312.31 741.51A148.6 148.6 0 0 1 311.75 742.12Q202.4 641.5 318.51 724.29Z" fill="#2a4d80" stroke="#2a4d80" stroke-width="0.12"/>
<path d="M318.78 723.91A142.6 142.6 0 0 1 318.51 724.29Q202.4 641.5 302.49 751.34A148.6 148.6 0 0 1 302.08 751.71Q202.4 641.5 318.78 723.91Z" fill="#2a4d80" stroke="#2a4d80" stroke-width="0.12"/>
<path d="M319.31 723.15A142.6 142.6 0 0 1 318.78 723.91Q202.4 641.5 266.98 775.33A148.6 148.6 0 0 1 265.8 775.9Q202.4 641.5 319.31 723.15Z" fill="#2a4d80" stroke="#2a4d80" stroke-width="0.12"/>
<path d="M320.36 721.62A142.6 142.6 0 0 1 319.31 723.15Q202.4 641.5 100.5 749.66A148.6 148.6 0 0 1 99.25 748.46Q202.4 641.5 320.36 721.62Z" fill="#2a4d80" stroke="#2a4d80" stroke-width="0.3"/>
<path d="M320.62 721.24A142.6 142.6 0 0 1 320.36 721.62Q202.4 641.5 75.29 718.48A148.6 148.6 0 0 1 75.02 718.03Q202.4 641.5 320.62 721.24Z" fill="#2a4d80" stroke="#2a4d80" stroke-width="0.12"/>
<path d="M320.88 720.85A142.6 142.6 0 0 1 320.62 721.24Q202.4 641.5 67.34 703.48A148.6 148.6 0 0 1 67.11 702.98Q202.4 641.5 320.88 720.85Z" fill="#2a4d80" stroke="#2a4d80" stroke-width="0.12"/>
<path d="M321.14 720.46A142.6 142.6 0 0 1 320.88 720.85Q202.4 641.5 53.93 647.72A148.6 148.6 0 0 1 53.92 647.39Q202.4 641.5 321.14 720.46Z" fill="#2a4d80" stroke="#2a4d80" stroke-width="0.12"/>
<path d="M321.4 720.08A142.6 142.6 0 0 1 321.14 720.46Q202.4 641.5 54.51 626.96A148.6 148.6 0 0 1 54.57 626.41Q202.4 641.5 321.4 720.08Z" fill="#2a4d80" stroke="#2a4d80" stroke-width="0.12"/>
<path d="M310.59 734.39A142.6 142.6 0 0 1 310.1 734.96Q202.4 641.5 240.82 497.95A148.6 148.6 0 0 1 241.84 498.23Q202.4 641.5 310.59 734.39Z" fill="#6fb0e0" stroke="#6fb0e0" stroke-width="0.12"/>
<path d="M310.83 734.11A142.6 142.6 0 0 1 310.59 734.39Q202.4 641.5 272.71 510.59A148.6 148.6 0 0 1 273.07 510.78Q202.4 641.5 310.83 734.11Z" fill="#6fb0e0" stroke="#6fb0e0" stroke-width="0.12"/>
<path d="M311.32 733.54A142.6 142.6 0 0 1 310.83 734.11Q202.4 641.5 298.53 528.18A148.6 148.6 0 0 1 299.25 528.8Q202.4 641.5 311.32 733.54Z" fill="#6fb0e0" stroke="#6fb0e0" stroke-width="0.12"/>
<path d="M311.56 733.26A142.6 142.6 0 0 1 311.32 733.54Q202.4 641.5 321.29 552.35A148.6 148.6 0 0 1 321.65 552.83Q202.4 641.5 311.56 733.26Z" fill="#6fb0e0" stroke="#6fb0e0" stroke-width="0.12"/>
<path d="M311.8 732.97A142.6 142.6 0 0 1 311.56 733.26Q202.4 641.5 344.07 596.64A148.6 148.6 0 0 1 344.28 597.31Q202.4 641.5 311.8 732.97Z" fill="#6fb0e0" stroke="#6fb0e0" stroke-width="0.12"/>
<path d="M308.12 737.2A142.6 142.6 0 0 1 307.87 737.47Q202.4 641.5 100.82 749.96A148.6 148.6 0 0 1 100.5 749.66Q202.4 641.5 308.12 737.2Z" fill="#6fb0e0" stroke="#6fb0e0" stroke-width="0.12"/>
<path d="M308.37 736.92A142.6 142.6 0 0 1 308.12 737.2Q202.4 641.5 83.83 731.07A148.6 148.6 0 0 1 83.64 730.83Q202.4 641.5 308.37 736.92Z" fill="#6fb0e0" stroke="#6fb0e0" stroke-width="0.12"/>
<path d="M308.62 736.64A142.6 142.6 0 0 1 308.37 736.92Q202.4 641.5 75.56 718.92A148.6 148.6 0 0 1 75.29 718.48Q202.4 641.5 308.62 736.64Z" fill="#6fb0e0" stroke="#6fb0e0" stroke-width="0.12"/>
<path d="M308.87 736.36A142.6 142.6 0 0 1 308.62 736.64Q202.4 641.5 53.94 648.06A148.6 148.6 0 0 1 53.93 647.72Q202.4 641.5 308.87 736.36Z" fill="#6fb0e0" stroke="#6fb0e0" stroke-width="0.12"/>
<path d="M309.61 735.52A142.6 142.6 0 0 1 308.87 736.36Q202.4 641.5 54.36 628.62A148.6 148.6 0 0 1 54.51 626.96Q202.4 641.5 309.61 735.52Z" fill="#6fb0e0" stroke="#6fb0e0" stroke-width="0.12"/>
<path d="M310.1 734.96A142.6 142.6 0 0 1 309.61 735.52Q202.4 641.5 61.99 592.86A148.6 148.6 0 0 1 62.24 592.13Q202.4 641.5 310.1 734.96Z" fill="#6fb0e0" stroke="#6fb0e0" stroke-width="0.12"/>
<path d="M299.95 745.51A142.6 142.6 0 0 1 299.45 745.98Q202.4 641.5 173.91 495.66A148.6 148.6 0 0 1 174.85 495.48Q202.4 641.5 299.95 745.51Z" fill="#9fb5e0" stroke="#9fb5e0" stroke-width="0.12"/>
<path d="M300.2 745.28A142.6 142.6 0 0 1 299.95 745.51Q202.4 641.5 333.34 571.23A148.6 148.6 0 0 1 333.59 571.71Q202.4 641.5 300.2 745.28Z" fill="#9fb5e0" stroke="#9fb5e0" stroke-width="0.12"/>
<path d="M298.7 746.67A142.6 142.6 0 0 1 298.45 746.9Q202.4 641.5 124.8 768.23A148.6 148.6 0 0 1 124.34 767.94Q202.4 641.5 298.7 746.67Z" fill="#9fb5e0" stroke="#9fb5e0" stroke-width="0.12"/>
<path d="M298.95 746.44A142.6 142.6 0 0 1 298.7 746.67Q202.4 641.5 101.14 750.26A148.6 148.6 0 0 1 100.82 749.96Q202.4 641.5 298.95 746.44Z" fill="#9fb5e0" stroke="#9fb5e0" stroke-width="0.12"/>
<path d="M299.2 746.21A142.6 142.6 0 0 1 298.95 746.44Q202.4 641.5 53.96 648.4A148.6 148.6 0 0 1 53.94 648.06Q202.4 641.5 299.2 746.21Z" fill="#9fb5e0" stroke="#9fb5e0" stroke-width="0.12"/>
<path d="M299.45 745.98A142.6 142.6 0 0 1 299.2 746.21Q202.4 641.5 54.31 629.18A148.6 148.6 0 0 1 54.36 628.62Q202.4 641.5 299.45 745.98Z" fill="#9fb5e0" stroke="#9fb5e0" stroke-width="0.12"/>
<path d="M282.59 759.41A142.6 142.6 0 0 1 281.85 759.92Q202.4 641.5 172.96 495.84A148.6 148.6 0 0 1 173.91 495.66Q202.4 641.5 282.59 759.41Z" fill="#f9a9a0" stroke="#f9a9a0" stroke-width="0.12"/>
<path d="M282.96 759.16A142.6 142.6 0 0 1 282.59 759.41Q202.4 641.5 240.31 497.82A148.6 148.6 0 0 1 240.82 497.95Q202.4 641.5 282.96 759.16Z" fill="#f9a9a0" stroke="#f9a9a0" stroke-width="0.12"/>
<path d="M283.7 758.65A142.6 142.6 0 0 1 282.96 759.16Q202.4 641.5 252.88 501.74A148.6 148.6 0 0 1 254.2 502.22Q202.4 641.5 283.7 758.65Z" fill="#f9a9a0" stroke="#f9a9a0" stroke-width="0.12"/>
<path d="M284.07 758.4A142.6 142.6 0 0 1 283.7 758.65Q202.4 641.5 272.35 510.39A148.6 148.6 0 0 1 272.71 510.59Q202.4 641.5 284.07 758.4Z" fill="#f9a9a0" stroke="#f9a9a0" stroke-width="0.12"/>
<path d="M284.44 758.14A142.6 142.6 0 0 1 284.07 758.4Q202.4 641.5 343.85 595.97A148.6 148.6 0 0 1 344.07 596.64Q202.4 641.5 284.44 758.14Z" fill="#f9a9a0" stroke="#f9a9a0" stroke-width="0.12"/>
<path d="M284.8 757.88A142.6 142.6 0 0 1 284.44 758.14Q202.4 641.5 346.56 605.46A148.6 148.6 0 0 1 346.65 605.8Q202.4 641.5 284.8 757.88Z" fill="#f9a9a0" stroke="#f9a9a0" stroke-width="0.12"/>
<path d="M281.11 760.41A142.6 142.6 0 0 1 280.73 760.66Q202.4 641.5 58.88 680.01A148.6 148.6 0 0 1 58.66 679.18Q202.4 641.5 281.11 760.41Z" fill="#f9a9a0" stroke="#f9a9a0" stroke-width="0.12"/>
<path d="M281.48 760.16A142.6 142.6 0 0 1 281.11 760.41Q202.4 641.5 57.33 609.31A148.6 148.6 0 0 1 57.39 609.01Q202.4 641.5 281.48 760.16Z" fill="#f9a9a0" stroke="#f9a9a0" stroke-width="0.12"/>
<path d="M281.85 759.92A142.6 142.6 0 0 1 281.48 760.16Q202.4 641.5 61.86 593.22A148.6 148.6 0 0 1 61.99 592.86Q202.4 641.5 281.85 759.92Z" fill="#f9a9a0" stroke="#f9a9a0" stroke-width="0.12"/>
<path d="M264.84 769.7A142.6 142.6 0 0 1 264.37 769.93Q202.4 641.5 116.37 520.34A148.6 148.6 0 0 1 116.72 520.08Q202.4 641.5 264.84 769.7Z" fill="#cdb8b0" stroke="#cdb8b0" stroke-width="0.12"/>
<path d="M265.31 769.47A142.6 142.6 0 0 1 264.84 769.7Q202.4 641.5 205.97 492.94A148.6 148.6 0 0 1 206.39 492.95Q202.4 641.5 265.31 769.47Z" fill="#cdb8b0" stroke="#cdb8b0" stroke-width="0.12"/>
<path d="M270.42 766.83A142.6 142.6 0 0 1 265.31 769.47Q202.4 641.5 234.65 496.44A148.6 148.6 0 0 1 240.31 497.82Q202.4 641.5 270.42 766.83Z" fill="#cdb8b0" stroke="#cdb8b0" stroke-width="0.3"/>
<path d="M270.88 766.58A142.6 142.6 0 0 1 270.42 766.83Q202.4 641.5 271.98 510.2A148.6 148.6 0 0 1 272.35 510.39Q202.4 641.5 270.88 766.58Z" fill="#cdb8b0" stroke="#cdb8b0" stroke-width="0.12"/>
<path d="M243.58 778.02A142.6 142.6 0 0 1 233.71 780.62Q202.4 641.5 163.6 498.05A148.6 148.6 0 0 1 172.96 495.84Q202.4 641.5 243.58 778.02Z" fill="#cc5a48" stroke="#cc5a48" stroke-width="0.3"/>
<path d="M245.53 777.42A142.6 142.6 0 0 1 243.58 778.02Q202.4 641.5 204.29 492.91A148.6 148.6 0 0 1 205.97 492.94Q202.4 641.5 245.53 777.42Z" fill="#cc5a48" stroke="#cc5a48" stroke-width="0.3"/>
<path d="M246.99 776.95A142.6 142.6 0 0 1 245.53 777.42Q202.4 641.5 233.1 496.11A148.6 148.6 0 0 1 234.65 496.44Q202.4 641.5 246.99 776.95Z" fill="#cc5a48" stroke="#cc5a48" stroke-width="0.3"/>
<path d="M249.4 776.13A142.6 142.6 0 0 1 246.99 776.95Q202.4 641.5 270.16 509.25A148.6 148.6 0 0 1 271.98 510.2Q202.4 641.5 249.4 776.13Z" fill="#cc5a48" stroke="#cc5a48" stroke-width="0.3"/>
<path d="M250.36 775.79A142.6 142.6 0 0 1 249.4 776.13Q202.4 641.5 297.8 527.57A148.6 148.6 0 0 1 298.53 528.18Q202.4 641.5 250.36 775.79Z" fill="#cc5a48" stroke="#cc5a48" stroke-width="0.12"/>
<path d="M250.84 775.62A142.6 142.6 0 0 1 250.36 775.79Q202.4 641.5 315.06 544.6A148.6 148.6 0 0 1 315.48 545.09Q202.4 641.5 250.84 775.62Z" fill="#cc5a48" stroke="#cc5a48" stroke-width="0.12"/>
<path d="M251.32 775.44A142.6 142.6 0 0 1 250.84 775.62Q202.4 641.5 337.4 579.4A148.6 148.6 0 0 1 337.62 579.88Q202.4 641.5 251.32 775.44Z" fill="#cc5a48" stroke="#cc5a48" stroke-width="0.12"/>
<path d="M251.8 775.27A142.6 142.6 0 0 1 251.32 775.44Q202.4 641.5 346.48 605.12A148.6 148.6 0 0 1 346.56 605.46Q202.4 641.5 251.8 775.27Z" fill="#cc5a48" stroke="#cc5a48" stroke-width="0.12"/>
<path d="M252.76 774.91A142.6 142.6 0 0 1 251.8 775.27Q202.4 641.5 348.65 615.17A148.6 148.6 0 0 1 348.83 616.2Q202.4 641.5 252.76 774.91Z" fill="#cc5a48" stroke="#cc5a48" stroke-width="0.12"/>
<path d="M253.24 774.73A142.6 142.6 0 0 1 252.76 774.91Q202.4 641.5 350.13 625.44A148.6 148.6 0 0 1 350.16 625.71Q202.4 641.5 253.24 774.73Z" fill="#cc5a48" stroke="#cc5a48" stroke-width="0.12"/>
<path d="M253.71 774.55A142.6 142.6 0 0 1 253.24 774.73Q202.4 641.5 350.54 653.21A148.6 148.6 0 0 1 350.51 653.57Q202.4 641.5 253.71 774.55Z" fill="#cc5a48" stroke="#cc5a48" stroke-width="0.12"/>
<path d="M254.19 774.36A142.6 142.6 0 0 1 253.71 774.55Q202.4 641.5 344 686.58A148.6 148.6 0 0 1 343.78 687.25Q202.4 641.5 254.19 774.36Z" fill="#cc5a48" stroke="#cc5a48" stroke-width="0.12"/>
<path d="M254.66 774.18A142.6 142.6 0 0 1 254.19 774.36Q202.4 641.5 309.67 744.34A148.6 148.6 0 0 1 309.47 744.54Q202.4 641.5 254.66 774.18Z" fill="#cc5a48" stroke="#cc5a48" stroke-width="0.12"/>
<path d="M223.69 782.5A142.6 142.6 0 0 1 223.18 782.58Q202.4 641.5 203.57 790.1A148.6 148.6 0 0 1 203.07 790.1Q202.4 641.5 223.69 782.5Z" fill="#cc5a48" stroke="#cc5a48" stroke-width="0.12"/>
<path d="M230.22 781.36A142.6 142.6 0 0 1 223.69 782.5Q202.4 641.5 130.93 771.78A148.6 148.6 0 0 1 124.8 768.23Q202.4 641.5 230.22 781.36Z" fill="#cc5a48" stroke="#cc5a48" stroke-width="0.3"/>
<path d="M230.72 781.26A142.6 142.6 0 0 1 230.22 781.36Q202.4 641.5 113.79 760.79A148.6 148.6 0 0 1 113.41 760.51Q202.4 641.5 230.72 781.26Z" fill="#cc5a48" stroke="#cc5a48" stroke-width="0.12"/>
<path d="M232.22 780.95A142.6 142.6 0 0 1 230.72 781.26Q202.4 641.5 84.38 731.79A148.6 148.6 0 0 1 83.83 731.07Q202.4 641.5 232.22 780.95Z" fill="#cc5a48" stroke="#cc5a48" stroke-width="0.12"/>
<path d="M233.71 780.62A142.6 142.6 0 0 1 232.22 780.95Q202.4 641.5 57.13 610.21A148.6 148.6 0 0 1 57.33 609.31Q202.4 641.5 233.71 780.62Z" fill="#cc5a48" stroke="#cc5a48" stroke-width="0.12"/>
<path d="M204.48 784.08A142.6 142.6 0 0 1 204 784.09Q202.4 641.5 163.14 498.18A148.6 148.6 0 0 1 163.6 498.05Q202.4 641.5 204.48 784.08Z" fill="#f01878" stroke="#f01878" stroke-width="0.12"/>
<path d="M206.4 784.04A142.6 142.6 0 0 1 204.48 784.08Q202.4 641.5 231.03 495.68A148.6 148.6 0 0 1 233.1 496.11Q202.4 641.5 206.4 784.04Z" fill="#f01878" stroke="#f01878" stroke-width="0.3"/>
<path d="M206.88 784.03A142.6 142.6 0 0 1 206.4 784.04Q202.4 641.5 269.79 509.06A148.6 148.6 0 0 1 270.16 509.25Q202.4 641.5 206.88 784.03Z" fill="#f01878" stroke="#f01878" stroke-width="0.12"/>
<path d="M204 784.09A142.6 142.6 0 0 1 203.52 784.1Q202.4 641.5 54.27 629.73A148.6 148.6 0 0 1 54.31 629.18Q202.4 641.5 204 784.09Z" fill="#f01878" stroke="#f01878" stroke-width="0.12"/>
<path d="M177.74 781.95A142.6 142.6 0 0 1 176.56 781.74Q202.4 641.5 115.29 521.11A148.6 148.6 0 0 1 116.37 520.34Q202.4 641.5 177.74 781.95Z" fill="#f03010" stroke="#f03010" stroke-width="0.12"/>
<path d="M180.09 782.34A142.6 142.6 0 0 1 177.74 781.95Q202.4 641.5 160.36 498.97A148.6 148.6 0 0 1 163.14 498.18Q202.4 641.5 180.09 782.34Z" fill="#f03010" stroke="#f03010" stroke-width="0.3"/>
<path d="M182.06 782.64A142.6 142.6 0 0 1 180.09 782.34Q202.4 641.5 202.19 492.9A148.6 148.6 0 0 1 204.29 492.91Q202.4 641.5 182.06 782.64Z" fill="#f03010" stroke="#f03010" stroke-width="0.3"/>
<path d="M182.46 782.7A142.6 142.6 0 0 1 182.06 782.64Q202.4 641.5 252.22 501.5A148.6 148.6 0 0 1 252.88 501.74Q202.4 641.5 182.46 782.7Z" fill="#f03010" stroke="#f03010" stroke-width="0.12"/>
<path d="M182.85 782.75A142.6 142.6 0 0 1 182.46 782.7Q202.4 641.5 269.43 508.88A148.6 148.6 0 0 1 269.79 509.06Q202.4 641.5 182.85 782.75Z" fill="#f03010" stroke="#f03010" stroke-width="0.12"/>
<path d="M183.24 782.81A142.6 142.6 0 0 1 182.85 782.75Q202.4 641.5 308.81 537.78A148.6 148.6 0 0 1 309.05 538.03Q202.4 641.5 183.24 782.81Z" fill="#f03010" stroke="#f03010" stroke-width="0.12"/>
<path d="M183.64 782.86A142.6 142.6 0 0 1 183.24 782.81Q202.4 641.5 350.1 625.17A148.6 148.6 0 0 1 350.13 625.44Q202.4 641.5 183.64 782.86Z" fill="#f03010" stroke="#f03010" stroke-width="0.12"/>
<path d="M184.03 782.91A142.6 142.6 0 0 1 183.64 782.86Q202.4 641.5 309.86 744.14A148.6 148.6 0 0 1 309.67 744.34Q202.4 641.5 184.03 782.91Z" fill="#f03010" stroke="#f03010" stroke-width="0.12"/>
<path d="M185.22 783.06A142.6 142.6 0 0 1 184.03 782.91Q202.4 641.5 282.59 766.6A148.6 148.6 0 0 1 281.15 767.52Q202.4 641.5 185.22 783.06Z" fill="#f03010" stroke="#f03010" stroke-width="0.12"/>
<path d="M185.61 783.11A142.6 142.6 0 0 1 185.22 783.06Q202.4 641.5 264.62 776.45A148.6 148.6 0 0 1 264.02 776.72Q202.4 641.5 185.61 783.11Z" fill="#f03010" stroke="#f03010" stroke-width="0.12"/>
<path d="M186.01 783.15A142.6 142.6 0 0 1 185.61 783.11Q202.4 641.5 200.57 790.09A148.6 148.6 0 0 1 200.07 790.08Q202.4 641.5 186.01 783.15Z" fill="#f03010" stroke="#f03010" stroke-width="0.12"/>
<path d="M168.77 780.08A142.6 142.6 0 0 1 168.39 779.98Q202.4 641.5 131.4 772.04A148.6 148.6 0 0 1 130.93 771.78Q202.4 641.5 168.77 780.08Z" fill="#f03010" stroke="#f03010" stroke-width="0.12"/>
<path d="M169.55 780.26A142.6 142.6 0 0 1 168.77 780.08Q202.4 641.5 114.53 761.34A148.6 148.6 0 0 1 113.79 760.79Q202.4 641.5 169.55 780.26Z" fill="#f03010" stroke="#f03010" stroke-width="0.12"/>
<path d="M169.93 780.36A142.6 142.6 0 0 1 169.55 780.26Q202.4 641.5 84.56 732.03A148.6 148.6 0 0 1 84.38 731.79Q202.4 641.5 169.93 780.36Z" fill="#f03010" stroke="#f03010" stroke-width="0.12"/>
<path d="M170.32 780.45A142.6 142.6 0 0 1 169.93 780.36Q202.4 641.5 75.83 719.36A148.6 148.6 0 0 1 75.56 718.92Q202.4 641.5 170.32 780.45Z" fill="#f03010" stroke="#f03010" stroke-width="0.12"/>
<path d="M170.71 780.53A142.6 142.6 0 0 1 170.32 780.45Q202.4 641.5 59.1 680.84A148.6 148.6 0 0 1 58.88 680.01Q202.4 641.5 170.71 780.53Z" fill="#f03010" stroke="#f03010" stroke-width="0.12"/>
<path d="M171.1 780.62A142.6 142.6 0 0 1 170.71 780.53Q202.4 641.5 53.98 648.73A148.6 148.6 0 0 1 53.96 648.4Q202.4 641.5 171.1 780.62Z" fill="#f03010" stroke="#f03010" stroke-width="0.12"/>
<path d="M171.49 780.71A142.6 142.6 0 0 1 171.1 780.62Q202.4 641.5 54.22 630.29A148.6 148.6 0 0 1 54.27 629.73Q202.4 641.5 171.49 780.71Z" fill="#f03010" stroke="#f03010" stroke-width="0.12"/>
<path d="M173.43 781.13A142.6 142.6 0 0 1 171.49 780.71Q202.4 641.5 56.82 611.7A148.6 148.6 0 0 1 57.13 610.21Q202.4 641.5 173.43 781.13Z" fill="#f03010" stroke="#f03010" stroke-width="0.3"/>
<path d="M176.56 781.74A142.6 142.6 0 0 1 173.43 781.13Q202.4 641.5 60.89 596.16A148.6 148.6 0 0 1 61.86 593.22Q202.4 641.5 176.56 781.74Z" fill="#f03010" stroke="#f03010" stroke-width="0.3"/>
<path d="M141.73 770.55A142.6 142.6 0 0 1 137.56 768.5Q202.4 641.5 155.77 500.41A148.6 148.6 0 0 1 160.36 498.97Q202.4 641.5 141.73 770.55Z" fill="#f59a20" stroke="#f59a20" stroke-width="0.3"/>
<path d="M144.26 771.71A142.6 142.6 0 0 1 141.73 770.55Q202.4 641.5 199.66 492.93A148.6 148.6 0 0 1 202.19 492.9Q202.4 641.5 144.26 771.71Z" fill="#f59a20" stroke="#f59a20" stroke-width="0.3"/>
<path d="M145.11 772.09A142.6 142.6 0 0 1 144.26 771.71Q202.4 641.5 332.82 570.27A148.6 148.6 0 0 1 333.34 571.23Q202.4 641.5 145.11 772.09Z" fill="#f59a20" stroke="#f59a20" stroke-width="0.12"/>
<path d="M145.54 772.27A142.6 142.6 0 0 1 145.11 772.09Q202.4 641.5 350.07 624.9A148.6 148.6 0 0 1 350.1 625.17Q202.4 641.5 145.54 772.27Z" fill="#f59a20" stroke="#f59a20" stroke-width="0.12"/>
<path d="M136.32 767.86A142.6 142.6 0 0 1 134.27 766.77Q202.4 641.5 102.74 751.72A148.6 148.6 0 0 1 101.14 750.26Q202.4 641.5 136.32 767.86Z" fill="#f59a20" stroke="#f59a20" stroke-width="0.3"/>
<path d="M136.73 768.08A142.6 142.6 0 0 1 136.32 767.86Q202.4 641.5 84.74 732.27A148.6 148.6 0 0 1 84.56 732.03Q202.4 641.5 136.73 768.08Z" fill="#f59a20" stroke="#f59a20" stroke-width="0.12"/>
<path d="M137.14 768.29A142.6 142.6 0 0 1 136.73 768.08Q202.4 641.5 63.03 693.05A148.6 148.6 0 0 1 62.85 692.57Q202.4 641.5 137.14 768.29Z" fill="#f59a20" stroke="#f59a20" stroke-width="0.12"/>
<path d="M137.56 768.5A142.6 142.6 0 0 1 137.14 768.29Q202.4 641.5 54.18 630.84A148.6 148.6 0 0 1 54.22 630.29Q202.4 641.5 137.56 768.5Z" fill="#f59a20" stroke="#f59a20" stroke-width="0.12"/>
<path d="M119.34 757.41A142.6 142.6 0 0 1 118.39 756.73Q202.4 641.5 154.4 500.87A148.6 148.6 0 0 1 155.77 500.41Q202.4 641.5 119.34 757.41Z" fill="#f5b040" stroke="#f5b040" stroke-width="0.12"/>
<path d="M119.66 757.64A142.6 142.6 0 0 1 119.34 757.41Q202.4 641.5 199.24 492.93A148.6 148.6 0 0 1 199.66 492.93Q202.4 641.5 119.66 757.64Z" fill="#f5b040" stroke="#f5b040" stroke-width="0.12"/>
<path d="M119.97 757.86A142.6 142.6 0 0 1 119.66 757.64Q202.4 641.5 230.51 495.58A148.6 148.6 0 0 1 231.03 495.68Q202.4 641.5 119.97 757.86Z" fill="#f5b040" stroke="#f5b040" stroke-width="0.12"/>
<path d="M120.29 758.09A142.6 142.6 0 0 1 119.97 757.86Q202.4 641.5 297.44 527.27A148.6 148.6 0 0 1 297.8 527.57Q202.4 641.5 120.29 758.09Z" fill="#f5b040" stroke="#f5b040" stroke-width="0.12"/>
<path d="M120.61 758.31A142.6 142.6 0 0 1 120.29 758.09Q202.4 641.5 348.55 614.65A148.6 148.6 0 0 1 348.65 615.17Q202.4 641.5 120.61 758.31Z" fill="#f5b040" stroke="#f5b040" stroke-width="0.12"/>
<path d="M118.39 756.73A142.6 142.6 0 0 1 118.08 756.5Q202.4 641.5 54.14 631.4A148.6 148.6 0 0 1 54.18 630.84Q202.4 641.5 118.39 756.73Z" fill="#f5b040" stroke="#f5b040" stroke-width="0.12"/>
<path d="M107.83 748.23A142.6 142.6 0 0 1 107.12 747.59Q202.4 641.5 153.49 501.18A148.6 148.6 0 0 1 154.4 500.87Q202.4 641.5 107.83 748.23Z" fill="#f02070" stroke="#f02070" stroke-width="0.12"/>
<path d="M108.19 748.55A142.6 142.6 0 0 1 107.83 748.23Q202.4 641.5 198.82 492.94A148.6 148.6 0 0 1 199.24 492.93Q202.4 641.5 108.19 748.55Z" fill="#f02070" stroke="#f02070" stroke-width="0.12"/>
<path d="M109.28 749.49A142.6 142.6 0 0 1 108.19 748.55Q202.4 641.5 228.95 495.29A148.6 148.6 0 0 1 230.51 495.58Q202.4 641.5 109.28 749.49Z" fill="#f02070" stroke="#f02070" stroke-width="0.3"/>
<path d="M109.64 749.81A142.6 142.6 0 0 1 109.28 749.49Q202.4 641.5 269.06 508.69A148.6 148.6 0 0 1 269.43 508.88Q202.4 641.5 109.64 749.81Z" fill="#f02070" stroke="#f02070" stroke-width="0.12"/>
<path d="M110.01 750.12A142.6 142.6 0 0 1 109.64 749.81Q202.4 641.5 297.08 526.96A148.6 148.6 0 0 1 297.44 527.27Q202.4 641.5 110.01 750.12Z" fill="#f02070" stroke="#f02070" stroke-width="0.12"/>
<path d="M110.37 750.43A142.6 142.6 0 0 1 110.01 750.12Q202.4 641.5 332.55 569.79A148.6 148.6 0 0 1 332.82 570.27Q202.4 641.5 110.37 750.43Z" fill="#f02070" stroke="#f02070" stroke-width="0.12"/>
<path d="M110.74 750.74A142.6 142.6 0 0 1 110.37 750.43Q202.4 641.5 346.39 604.78A148.6 148.6 0 0 1 346.48 605.12Q202.4 641.5 110.74 750.74Z" fill="#f02070" stroke="#f02070" stroke-width="0.12"/>
<path d="M107.12 747.59A142.6 142.6 0 0 1 106.76 747.27Q202.4 641.5 53.99 649.07A148.6 148.6 0 0 1 53.98 648.73Q202.4 641.5 107.12 747.59Z" fill="#f02070" stroke="#f02070" stroke-width="0.12"/>
<path d="M91.11 730.66A142.6 142.6 0 0 1 90.14 729.43Q202.4 641.5 114.23 521.88A148.6 148.6 0 0 1 115.29 521.11Q202.4 641.5 91.11 730.66Z" fill="#f5b050" stroke="#f5b050" stroke-width="0.12"/>
<path d="M91.77 731.47A142.6 142.6 0 0 1 91.11 730.66Q202.4 641.5 152.58 501.5A148.6 148.6 0 0 1 153.49 501.18Q202.4 641.5 91.77 731.47Z" fill="#f5b050" stroke="#f5b050" stroke-width="0.12"/>
<path d="M92.1 731.88A142.6 142.6 0 0 1 91.77 731.47Q202.4 641.5 198.4 492.95A148.6 148.6 0 0 1 198.82 492.94Q202.4 641.5 92.1 731.88Z" fill="#f5b050" stroke="#f5b050" stroke-width="0.12"/>
<path d="M92.43 732.28A142.6 142.6 0 0 1 92.1 731.88Q202.4 641.5 228.43 495.2A148.6 148.6 0 0 1 228.95 495.29Q202.4 641.5 92.43 732.28Z" fill="#f5b050" stroke="#f5b050" stroke-width="0.12"/>
<path d="M92.76 732.68A142.6 142.6 0 0 1 92.43 732.28Q202.4 641.5 251.56 501.27A148.6 148.6 0 0 1 252.22 501.5Q202.4 641.5 92.76 732.68Z" fill="#f5b050" stroke="#f5b050" stroke-width="0.12"/>
<path d="M93.1 733.09A142.6 142.6 0 0 1 92.76 732.68Q202.4 641.5 296.71 526.66A148.6 148.6 0 0 1 297.08 526.96Q202.4 641.5 93.1 733.09Z" fill="#f5b050" stroke="#f5b050" stroke-width="0.12"/>
<path d="M93.43 733.49A142.6 142.6 0 0 1 93.1 733.09Q202.4 641.5 343.64 595.31A148.6 148.6 0 0 1 343.85 595.97Q202.4 641.5 93.43 733.49Z" fill="#f5b050" stroke="#f5b050" stroke-width="0.12"/>
<path d="M93.77 733.88A142.6 142.6 0 0 1 93.43 733.49Q202.4 641.5 348.46 614.13A148.6 148.6 0 0 1 348.55 614.65Q202.4 641.5 93.77 733.88Z" fill="#f5b050" stroke="#f5b050" stroke-width="0.12"/>
<path d="M94.11 734.28A142.6 142.6 0 0 1 93.77 733.88Q202.4 641.5 112.31 759.67A148.6 148.6 0 0 1 111.94 759.39Q202.4 641.5 94.11 734.28Z" fill="#f5b050" stroke="#f5b050" stroke-width="0.12"/>
<path d="M94.45 734.68A142.6 142.6 0 0 1 94.11 734.28Q202.4 641.5 97.08 746.33A148.6 148.6 0 0 1 96.78 746.02Q202.4 641.5 94.45 734.68Z" fill="#f5b050" stroke="#f5b050" stroke-width="0.12"/>
<path d="M90.14 729.43A142.6 142.6 0 0 1 89.5 728.61Q202.4 641.5 54.07 632.51A148.6 148.6 0 0 1 54.14 631.4Q202.4 641.5 90.14 729.43Z" fill="#f5b050" stroke="#f5b050" stroke-width="0.12"/>
<path d="M81.57 717.24A142.6 142.6 0 0 1 81.36 716.9Q202.4 641.5 152.13 501.66A148.6 148.6 0 0 1 152.58 501.5Q202.4 641.5 81.57 717.24Z" fill="#e0b070" stroke="#e0b070" stroke-width="0.12"/>
<path d="M82.21 718.24A142.6 142.6 0 0 1 81.57 717.24Q202.4 641.5 197.14 492.99A148.6 148.6 0 0 1 198.4 492.95Q202.4 641.5 82.21 718.24Z" fill="#e0b070" stroke="#e0b070" stroke-width="0.12"/>
<path d="M82.43 718.58A142.6 142.6 0 0 1 82.21 718.24Q202.4 641.5 227.91 495.11A148.6 148.6 0 0 1 228.43 495.2Q202.4 641.5 82.43 718.58Z" fill="#e0b070" stroke="#e0b070" stroke-width="0.12"/>
<path d="M82.64 718.91A142.6 142.6 0 0 1 82.43 718.58Q202.4 641.5 250.9 501.04A148.6 148.6 0 0 1 251.56 501.27Q202.4 641.5 82.64 718.91Z" fill="#e0b070" stroke="#e0b070" stroke-width="0.12"/>
<path d="M82.86 719.25A142.6 142.6 0 0 1 82.64 718.91Q202.4 641.5 268.69 508.51A148.6 148.6 0 0 1 269.06 508.69Q202.4 641.5 82.86 719.25Z" fill="#e0b070" stroke="#e0b070" stroke-width="0.12"/>
<path d="M83.08 719.58A142.6 142.6 0 0 1 82.86 719.25Q202.4 641.5 296.34 526.36A148.6 148.6 0 0 1 296.71 526.66Q202.4 641.5 83.08 719.58Z" fill="#e0b070" stroke="#e0b070" stroke-width="0.12"/>
<path d="M83.3 719.92A142.6 142.6 0 0 1 83.08 719.58Q202.4 641.5 332.29 569.32A148.6 148.6 0 0 1 332.55 569.79Q202.4 641.5 83.3 719.92Z" fill="#e0b070" stroke="#e0b070" stroke-width="0.12"/>
<path d="M83.52 720.25A142.6 142.6 0 0 1 83.3 719.92Q202.4 641.5 346.31 604.44A148.6 148.6 0 0 1 346.39 604.78Q202.4 641.5 83.52 720.25Z" fill="#e0b070" stroke="#e0b070" stroke-width="0.12"/>
<path d="M83.74 720.58A142.6 142.6 0 0 1 83.52 720.25Q202.4 641.5 283.07 766.3A148.6 148.6 0 0 1 282.59 766.6Q202.4 641.5 83.74 720.58Z" fill="#e0b070" stroke="#e0b070" stroke-width="0.12"/>
<path d="M83.96 720.91A142.6 142.6 0 0 1 83.74 720.58Q202.4 641.5 201.07 790.09A148.6 148.6 0 0 1 200.57 790.09Q202.4 641.5 83.96 720.91Z" fill="#e0b070" stroke="#e0b070" stroke-width="0.12"/>
<path d="M84.18 721.24A142.6 142.6 0 0 1 83.96 720.91Q202.4 641.5 112.67 759.95A148.6 148.6 0 0 1 112.31 759.67Q202.4 641.5 84.18 721.24Z" fill="#e0b070" stroke="#e0b070" stroke-width="0.12"/>
<path d="M81.15 716.56A142.6 142.6 0 0 1 80.94 716.22Q202.4 641.5 63.21 693.54A148.6 148.6 0 0 1 63.03 693.05Q202.4 641.5 81.15 716.56Z" fill="#e0b070" stroke="#e0b070" stroke-width="0.12"/>
<path d="M81.36 716.9A142.6 142.6 0 0 1 81.15 716.56Q202.4 641.5 56.76 612A148.6 148.6 0 0 1 56.82 611.7Q202.4 641.5 81.36 716.9Z" fill="#e0b070" stroke="#e0b070" stroke-width="0.12"/>
<path d="M73.15 701.74A142.6 142.6 0 0 1 72.97 701.36Q202.4 641.5 151.68 501.82A148.6 148.6 0 0 1 152.13 501.66Q202.4 641.5 73.15 701.74Z" fill="#2010e0" stroke="#2010e0" stroke-width="0.12"/>
<path d="M73.33 702.13A142.6 142.6 0 0 1 73.15 701.74Q202.4 641.5 196.72 493.01A148.6 148.6 0 0 1 197.14 492.99Q202.4 641.5 73.33 702.13Z" fill="#2010e0" stroke="#2010e0" stroke-width="0.12"/>
<path d="M73.51 702.51A142.6 142.6 0 0 1 73.33 702.13Q202.4 641.5 332.03 568.84A148.6 148.6 0 0 1 332.29 569.32Q202.4 641.5 73.51 702.51Z" fill="#2010e0" stroke="#2010e0" stroke-width="0.12"/>
<path d="M73.69 702.89A142.6 142.6 0 0 1 73.51 702.51Q202.4 641.5 350.04 624.63A148.6 148.6 0 0 1 350.07 624.9Q202.4 641.5 73.69 702.89Z" fill="#2010e0" stroke="#2010e0" stroke-width="0.12"/>
<path d="M72.97 701.36A142.6 142.6 0 0 1 72.79 700.97Q202.4 641.5 63.39 694.03A148.6 148.6 0 0 1 63.21 693.54Q202.4 641.5 72.97 701.36Z" fill="#2010e0" stroke="#2010e0" stroke-width="0.12"/>
<path d="M69.36 692.84A142.6 142.6 0 0 1 69.01 691.91Q202.4 641.5 150.78 502.16A148.6 148.6 0 0 1 151.68 501.82Q202.4 641.5 69.36 692.84Z" fill="#301090" stroke="#301090" stroke-width="0.12"/>
<path d="M69.54 693.3A142.6 142.6 0 0 1 69.36 692.84Q202.4 641.5 295.98 526.06A148.6 148.6 0 0 1 296.34 526.36Q202.4 641.5 69.54 693.3Z" fill="#301090" stroke="#301090" stroke-width="0.12"/>
<path d="M65.73 682.21A142.6 142.6 0 0 1 64.89 679.25Q202.4 641.5 148.08 503.18A148.6 148.6 0 0 1 150.78 502.16Q202.4 641.5 65.73 682.21Z" fill="#2a1a8a" stroke="#2a1a8a" stroke-width="0.3"/>
<path d="M65.88 682.7A142.6 142.6 0 0 1 65.73 682.21Q202.4 641.5 343.42 594.64A148.6 148.6 0 0 1 343.64 595.31Q202.4 641.5 65.88 682.7Z" fill="#2a1a8a" stroke="#2a1a8a" stroke-width="0.12"/>
<path d="M66.03 683.19A142.6 142.6 0 0 1 65.88 682.7Q202.4 641.5 348.36 613.62A148.6 148.6 0 0 1 348.46 614.13Q202.4 641.5 66.03 683.19Z" fill="#2a1a8a" stroke="#2a1a8a" stroke-width="0.12"/>
<path d="M62.33 668.22A142.6 142.6 0 0 1 62.23 667.73Q202.4 641.5 147.63 503.36A148.6 148.6 0 0 1 148.08 503.18Q202.4 641.5 62.33 668.22Z" fill="#6030c0" stroke="#6030c0" stroke-width="0.12"/>
<path d="M60.02 649.37A142.6 142.6 0 0 1 59.99 648.76Q202.4 641.5 147.19 503.54A148.6 148.6 0 0 1 147.63 503.36Q202.4 641.5 60.02 649.37Z" fill="#c01860" stroke="#c01860" stroke-width="0.12"/>
<path d="M60.09 650.59A142.6 142.6 0 0 1 60.02 649.37Q202.4 641.5 226.86 494.93A148.6 148.6 0 0 1 227.91 495.11Q202.4 641.5 60.09 650.59Z" fill="#c01860" stroke="#c01860" stroke-width="0.12"/>
<path d="M60.13 651.2A142.6 142.6 0 0 1 60.09 650.59Q202.4 641.5 66.66 701.97A148.6 148.6 0 0 1 66.44 701.47Q202.4 641.5 60.13 651.2Z" fill="#c01860" stroke="#c01860" stroke-width="0.12"/>
<path d="M60.02 633.6A142.6 142.6 0 0 1 60.06 632.87Q202.4 641.5 113.88 522.14A148.6 148.6 0 0 1 114.23 521.88Q202.4 641.5 60.02 633.6Z" fill="#d895b0" stroke="#d895b0" stroke-width="0.12"/>
<path d="M59.98 634.33A142.6 142.6 0 0 1 60.02 633.6Q202.4 641.5 196.3 493.03A148.6 148.6 0 0 1 196.72 493.01Q202.4 641.5 59.98 634.33Z" fill="#d895b0" stroke="#d895b0" stroke-width="0.12"/>
<path d="M59.95 635.06A142.6 142.6 0 0 1 59.98 634.33Q202.4 641.5 350.01 624.36A148.6 148.6 0 0 1 350.04 624.63Q202.4 641.5 59.95 635.06Z" fill="#d895b0" stroke="#d895b0" stroke-width="0.12"/>
<path d="M59.89 636.52A142.6 142.6 0 0 1 59.95 635.06Q202.4 641.5 53.84 645.03A148.6 148.6 0 0 1 53.83 644.35Q202.4 641.5 59.89 636.52Z" fill="#d895b0" stroke="#d895b0" stroke-width="0.12"/>
<path d="M62.42 614.29A142.6 142.6 0 0 1 62.64 613.19Q202.4 641.5 195.46 493.06A148.6 148.6 0 0 1 196.3 493.03Q202.4 641.5 62.42 614.29Z" fill="#f090b8" stroke="#f090b8" stroke-width="0.12"/>
<path d="M62.31 614.84A142.6 142.6 0 0 1 62.42 614.29Q202.4 641.5 226.34 494.84A148.6 148.6 0 0 1 226.86 494.93Q202.4 641.5 62.31 614.84Z" fill="#f090b8" stroke="#f090b8" stroke-width="0.12"/>
<path d="M62.01 616.49A142.6 142.6 0 0 1 62.31 614.84Q202.4 641.5 294.87 525.17A148.6 148.6 0 0 1 295.98 526.06Q202.4 641.5 62.01 616.49Z" fill="#f090b8" stroke="#f090b8" stroke-width="0.3"/>
<path d="M66.47 598.4A142.6 142.6 0 0 1 66.6 597.99Q202.4 641.5 146.74 503.72A148.6 148.6 0 0 1 147.19 503.54Q202.4 641.5 66.47 598.4Z" fill="#f070a8" stroke="#f070a8" stroke-width="0.12"/>
<path d="M66.34 598.8A142.6 142.6 0 0 1 66.47 598.4Q202.4 641.5 195.04 493.08A148.6 148.6 0 0 1 195.46 493.06Q202.4 641.5 66.34 598.8Z" fill="#f070a8" stroke="#f070a8" stroke-width="0.12"/>
<path d="M66.22 599.21A142.6 142.6 0 0 1 66.34 598.8Q202.4 641.5 268.32 508.32A148.6 148.6 0 0 1 268.69 508.51Q202.4 641.5 66.22 599.21Z" fill="#f070a8" stroke="#f070a8" stroke-width="0.12"/>
<path d="M66.09 599.61A142.6 142.6 0 0 1 66.22 599.21Q202.4 641.5 294.5 524.88A148.6 148.6 0 0 1 294.87 525.17Q202.4 641.5 66.09 599.61Z" fill="#f070a8" stroke="#f070a8" stroke-width="0.12"/>
<path d="M65.97 600.02A142.6 142.6 0 0 1 66.09 599.61Q202.4 641.5 340.66 587.04A148.6 148.6 0 0 1 340.85 587.52Q202.4 641.5 65.97 600.02Z" fill="#f070a8" stroke="#f070a8" stroke-width="0.12"/>
<path d="M65.84 600.42A142.6 142.6 0 0 1 65.97 600.02Q202.4 641.5 348.26 613.1A148.6 148.6 0 0 1 348.36 613.62Q202.4 641.5 65.84 600.42Z" fill="#f070a8" stroke="#f070a8" stroke-width="0.12"/>
<path d="M65.72 600.83A142.6 142.6 0 0 1 65.84 600.42Q202.4 641.5 58.23 677.53A148.6 148.6 0 0 1 58.03 676.69Q202.4 641.5 65.72 600.83Z" fill="#f070a8" stroke="#f070a8" stroke-width="0.12"/>
<path d="M65.6 601.24A142.6 142.6 0 0 1 65.72 600.83Q202.4 641.5 53.85 645.36A148.6 148.6 0 0 1 53.84 645.03Q202.4 641.5 65.6 601.24Z" fill="#f070a8" stroke="#f070a8" stroke-width="0.12"/>
<path d="M102.87 530.62A149 149 0 0 1 104.65 529.05L106.75 531.46A145.8 145.8 0 0 0 105.01 533Z" fill="#a8ddd5"/>
<path d="M99.69 533.56A149 149 0 0 1 102.87 530.62L105.01 533A145.8 145.8 0 0 0 101.89 535.88Z" fill="#2aa396"/>
<path d="M98.27 534.93A149 149 0 0 1 99.69 533.56L101.89 535.88A145.8 145.8 0 0 0 100.5 537.22Z" fill="#7fcfc4"/>
<path d="M97.14 536.04A149 149 0 0 1 98.27 534.93L100.5 537.22A145.8 145.8 0 0 0 99.4 538.3Z" fill="#0d7f6c"/>
<path d="M96.59 536.6A149 149 0 0 1 97.14 536.04L99.4 538.3A145.8 145.8 0 0 0 98.86 538.85Z" fill="#7fe5cc"/>
<path d="M95.48 537.72A149 149 0 0 1 96.59 536.6L98.86 538.85A145.8 145.8 0 0 0 97.78 539.95Z" fill="#d5ecea"/>
<path d="M95.21 538.01A149 149 0 0 1 95.48 537.72L97.78 539.95A145.8 145.8 0 0 0 97.51 540.23Z" fill="#8fd8d0"/>
<path d="M93.31 540.01A149 149 0 0 1 95.21 538.01L97.51 540.23A145.8 145.8 0 0 0 95.65 542.19Z" fill="#0b8a45"/>
<path d="M93.04 540.3A149 149 0 0 1 93.31 540.01L95.65 542.19A145.8 145.8 0 0 0 95.39 542.47Z" fill="#30b080"/>
<path d="M92.77 540.59A149 149 0 0 1 93.04 540.3L95.39 542.47A145.8 145.8 0 0 0 95.13 542.76Z" fill="#209068"/>
<path d="M92.51 540.88A149 149 0 0 1 92.77 540.59L95.13 542.76A145.8 145.8 0 0 0 94.87 543.04Z" fill="#40e0a0"/>
<path d="M91.97 541.46A149 149 0 0 1 92.51 540.88L94.87 543.04A145.8 145.8 0 0 0 94.35 543.61Z" fill="#b5a84a"/>
<path d="M91.71 541.76A149 149 0 0 1 91.97 541.46L94.35 543.61A145.8 145.8 0 0 0 94.09 543.9Z" fill="#e8d42a"/>
<path d="M90.92 542.64A149 149 0 0 1 91.71 541.76L94.09 543.9A145.8 145.8 0 0 0 93.31 544.76Z" fill="#2a63a0"/>
<path d="M90.4 543.23A149 149 0 0 1 90.92 542.64L93.31 544.76A145.8 145.8 0 0 0 92.8 545.34Z" fill="#2a4d80"/>
<path d="M88.85 545.02A149 149 0 0 1 90.4 543.23L92.8 545.34A145.8 145.8 0 0 0 91.29 547.1Z" fill="#6fb0e0"/>
<path d="M88.34 545.63A149 149 0 0 1 88.85 545.02L91.29 547.1A145.8 145.8 0 0 0 90.79 547.68Z" fill="#9fb5e0"/>
<path d="M87.84 546.23A149 149 0 0 1 88.34 545.63L90.79 547.68A145.8 145.8 0 0 0 90.3 548.28Z" fill="#f9a9a0"/>
<path d="M87.33 546.84A149 149 0 0 1 87.84 546.23L90.3 548.28A145.8 145.8 0 0 0 89.8 548.87Z" fill="#cdb8b0"/>
<path d="M82.25 553.38A149 149 0 0 1 87.33 546.84L89.8 548.87A145.8 145.8 0 0 0 84.83 555.27Z" fill="#cc5a48"/>
<path d="M82.02 553.7A149 149 0 0 1 82.25 553.38L84.83 555.27A145.8 145.8 0 0 0 84.6 555.58Z" fill="#f01878"/>
<path d="M74.41 565.21A149 149 0 0 1 82.02 553.7L84.6 555.58A145.8 145.8 0 0 0 77.16 566.85Z" fill="#f03010"/>
<path d="M73.61 566.57A149 149 0 0 1 74.41 565.21L77.16 566.85A145.8 145.8 0 0 0 76.37 568.18Z" fill="#f02070"/>
<path d="M73.21 567.26A149 149 0 0 1 73.61 566.57L76.37 568.18A145.8 145.8 0 0 0 75.99 568.85Z" fill="#f5b050"/>
<path d="M72.82 567.94A149 149 0 0 1 73.21 567.26L75.99 568.85A145.8 145.8 0 0 0 75.61 569.52Z" fill="#2010e0"/>
<path d="M72.43 568.63A149 149 0 0 1 72.82 567.94L75.61 569.52A145.8 145.8 0 0 0 75.23 570.19Z" fill="#2a1a8a"/>
<path d="M72.24 568.97A149 149 0 0 1 72.43 568.63L75.23 570.19A145.8 145.8 0 0 0 75.04 570.53Z" fill="#6030c0"/>
<path d="M71.48 570.36A149 149 0 0 1 72.24 568.97L75.04 570.53A145.8 145.8 0 0 0 74.29 571.88Z" fill="#c01860"/>
<path d="M70.74 571.75A149 149 0 0 1 71.48 570.36L74.29 571.88A145.8 145.8 0 0 0 73.56 573.25Z" fill="#d895b0"/>
<path d="M70.19 572.8A149 149 0 0 1 70.74 571.75L73.56 573.25A145.8 145.8 0 0 0 73.03 574.27Z" fill="#f090b8"/>
<path d="M69.29 574.55A149 149 0 0 1 70.19 572.8L73.03 574.27A145.8 145.8 0 0 0 72.15 575.99Z" fill="#f070a8"/>
<path d="M110.79 523.99A149 149 0 0 1 111.53 523.42L113.48 525.95A145.8 145.8 0 0 0 112.76 526.51Z" fill="#2aa396"/>
<path d="M110.42 524.28A149 149 0 0 1 110.79 523.99L112.76 526.51A145.8 145.8 0 0 0 112.4 526.8Z" fill="#7fcfc4"/>
<path d="M110.05 524.57A149 149 0 0 1 110.42 524.28L112.4 526.8A145.8 145.8 0 0 0 112.04 527.08Z" fill="#7fe5cc"/>
<path d="M137.52 507.37A149 149 0 0 1 140.83 505.82L142.15 508.73A145.8 145.8 0 0 0 138.91 510.25Z" fill="#7fcfc4"/>
<path d="M135.34 508.45A149 149 0 0 1 137.52 507.37L138.91 510.25A145.8 145.8 0 0 0 136.78 511.3Z" fill="#0d7f6c"/>
<path d="M134.97 508.63A149 149 0 0 1 135.34 508.45L136.78 511.3A145.8 145.8 0 0 0 136.42 511.48Z" fill="#1fd6a0"/>
<path d="M131.74 510.32A149 149 0 0 1 134.97 508.63L136.42 511.48A145.8 145.8 0 0 0 133.25 513.14Z" fill="#7fe5cc"/>
<path d="M125.05 514.15A149 149 0 0 1 131.74 510.32L133.25 513.14A145.8 145.8 0 0 0 126.71 516.89Z" fill="#d5ecea"/>
<path d="M124.7 514.36A149 149 0 0 1 125.05 514.15L126.71 516.89A145.8 145.8 0 0 0 126.37 517.09Z" fill="#1f8a78"/>
<path d="M123.66 515A149 149 0 0 1 124.7 514.36L126.37 517.09A145.8 145.8 0 0 0 125.35 517.72Z" fill="#8fd8d0"/>
<path d="M187.25 493.27A149 149 0 0 1 188.71 493.13L189 496.32A145.8 145.8 0 0 0 187.57 496.46Z" fill="#0d7f6c"/>
<path d="M186.76 493.32A149 149 0 0 1 187.25 493.27L187.57 496.46A145.8 145.8 0 0 0 187.1 496.51Z" fill="#7fe5cc"/>
<path d="M186.28 493.37A149 149 0 0 1 186.76 493.32L187.1 496.51A145.8 145.8 0 0 0 186.62 496.56Z" fill="#d5ecea"/>
<path d="M185.79 493.43A149 149 0 0 1 186.28 493.37L186.62 496.56A145.8 145.8 0 0 0 186.15 496.61Z" fill="#2a5a55"/>
<path d="M217.47 493.26A149 149 0 0 1 219.58 493.49L219.21 496.67A145.8 145.8 0 0 0 217.14 496.45Z" fill="#7fe5cc"/>
<path d="M216.94 493.21A149 149 0 0 1 217.47 493.26L217.14 496.45A145.8 145.8 0 0 0 216.63 496.4Z" fill="#1f8a78"/>
<path d="M249.92 500.28A149 149 0 0 1 250.37 500.43L249.34 503.46A145.8 145.8 0 0 0 248.9 503.32Z" fill="#d5ecea"/>
<path d="M260.38 504.24A149 149 0 0 1 262.15 505L260.86 507.94A145.8 145.8 0 0 0 259.13 507.19Z" fill="#d5ecea"/>
<path d="M330.12 564.76A149 149 0 0 1 330.46 565.33L327.71 566.97A145.8 145.8 0 0 0 327.37 566.41Z" fill="#2aa396"/>
<path d="M343.7 594.22A149 149 0 0 1 343.8 594.52L340.76 595.53A145.8 145.8 0 0 0 340.67 595.24Z" fill="#2aa396"/>
<path d="M346.65 604.19A149 149 0 0 1 346.69 604.34L343.59 605.14A145.8 145.8 0 0 0 343.56 604.99Z" fill="#30c080"/>
<path d="M348.46 612.05A149 149 0 0 1 348.55 612.51L345.41 613.13A145.8 145.8 0 0 0 345.32 612.68Z" fill="#2aa396"/>
<path d="M350.36 623.95A149 149 0 0 1 350.37 624.04L347.2 624.41A145.8 145.8 0 0 0 347.18 624.33Z" fill="#2aa396"/>
<path d="M350.35 623.86A149 149 0 0 1 350.36 623.95L347.18 624.33A145.8 145.8 0 0 0 347.17 624.24Z" fill="#d5ecea"/>
<path d="M351.4 641.76A149 149 0 0 1 351.4 642.28L348.2 642.26A145.8 145.8 0 0 0 348.2 641.75Z" fill="#7fe5cc"/>
<path d="M351.4 641.24A149 149 0 0 1 351.4 641.76L348.2 641.75A145.8 145.8 0 0 0 348.2 641.25Z" fill="#8fd8d0"/>
<path d="M351.4 642.28A149 149 0 0 1 351.39 642.8L348.19 642.77A145.8 145.8 0 0 0 348.2 642.26Z" fill="#d895b0"/>
<path d="M351.05 651.64A149 149 0 0 1 351.02 652.08L347.83 651.85A145.8 145.8 0 0 0 347.86 651.43Z" fill="#a8ddd5"/>
<path d="M351.08 651.21A149 149 0 0 1 351.05 651.64L347.86 651.43A145.8 145.8 0 0 0 347.89 651Z" fill="#7fcfc4"/>
<path d="M351.11 650.77A149 149 0 0 1 351.08 651.21L347.89 651A145.8 145.8 0 0 0 347.92 650.57Z" fill="#7fe5cc"/>
<path d="M351.14 650.34A149 149 0 0 1 351.11 650.77L347.92 650.57A145.8 145.8 0 0 0 347.94 650.15Z" fill="#40e0a0"/>
<path d="M351.02 652.08A149 149 0 0 1 350.99 652.52L347.8 652.28A145.8 145.8 0 0 0 347.83 651.85Z" fill="#f02070"/>
<path d="M349.66 664.22A149 149 0 0 1 349.46 665.47L346.3 664.95A145.8 145.8 0 0 0 346.49 663.73Z" fill="#2aa396"/>
<path d="M349.75 663.6A149 149 0 0 1 349.66 664.22L346.49 663.73A145.8 145.8 0 0 0 346.59 663.12Z" fill="#7fcfc4"/>
<path d="M349.84 662.97A149 149 0 0 1 349.75 663.6L346.59 663.12A145.8 145.8 0 0 0 346.68 662.51Z" fill="#0d7f6c"/>
<path d="M350.02 661.72A149 149 0 0 1 349.84 662.97L346.68 662.51A145.8 145.8 0 0 0 346.85 661.29Z" fill="#d5ecea"/>
<path d="M349.46 665.47A149 149 0 0 1 349.36 666.09L346.2 665.56A145.8 145.8 0 0 0 346.3 664.95Z" fill="#f5b040"/>
<path d="M346.95 677.63A149 149 0 0 1 346.84 678.07L343.74 677.29A145.8 145.8 0 0 0 343.85 676.85Z" fill="#2aa396"/>
<path d="M347.39 675.85A149 149 0 0 1 346.95 677.63L343.85 676.85A145.8 145.8 0 0 0 344.27 675.11Z" fill="#7fcfc4"/>
<path d="M347.6 674.96A149 149 0 0 1 347.39 675.85L344.27 675.11A145.8 145.8 0 0 0 344.48 674.24Z" fill="#7fe5cc"/>
<path d="M347.7 674.51A149 149 0 0 1 347.6 674.96L344.48 674.24A145.8 145.8 0 0 0 344.58 673.8Z" fill="#d5ecea"/>
<path d="M345.52 682.93A149 149 0 0 1 345 684.69L341.94 683.76A145.8 145.8 0 0 0 342.45 682.04Z" fill="#6fb0e0"/>
<path d="M345.9 681.61A149 149 0 0 1 345.52 682.93L342.45 682.04A145.8 145.8 0 0 0 342.82 680.75Z" fill="#f01878"/>
<path d="M346.02 681.17A149 149 0 0 1 345.9 681.61L342.82 680.75A145.8 145.8 0 0 0 342.94 680.32Z" fill="#f59a20"/>
<path d="M346.14 680.73A149 149 0 0 1 346.02 681.17L342.94 680.32A145.8 145.8 0 0 0 343.06 679.89Z" fill="#f5b040"/>
<path d="M346.38 679.85A149 149 0 0 1 346.14 680.73L343.06 679.89A145.8 145.8 0 0 0 343.29 679.02Z" fill="#f02070"/>
<path d="M346.5 679.4A149 149 0 0 1 346.38 679.85L343.29 679.02A145.8 145.8 0 0 0 343.4 678.59Z" fill="#f5b050"/>
<path d="M346.61 678.96A149 149 0 0 1 346.5 679.4L343.4 678.59A145.8 145.8 0 0 0 343.52 678.16Z" fill="#c01860"/>
<path d="M346.73 678.52A149 149 0 0 1 346.61 678.96L343.52 678.16A145.8 145.8 0 0 0 343.63 677.72Z" fill="#f090b8"/>
<path d="M346.84 678.07A149 149 0 0 1 346.73 678.52L343.63 677.72A145.8 145.8 0 0 0 343.74 677.29Z" fill="#f070a8"/>
<path d="M338.31 702.58A149 149 0 0 1 337.98 703.29L335.07 701.96A145.8 145.8 0 0 0 335.39 701.27Z" fill="#7fcfc4"/>
<path d="M337.98 703.29A149 149 0 0 1 337.66 704L334.75 702.66A145.8 145.8 0 0 0 335.07 701.96Z" fill="#c01860"/>
<path d="M327.27 722.79A149 149 0 0 1 326.74 723.6L324.07 721.84A145.8 145.8 0 0 0 324.59 721.05Z" fill="#a8ddd5"/>
<path d="M327.53 722.39A149 149 0 0 1 327.27 722.79L324.59 721.05A145.8 145.8 0 0 0 324.85 720.65Z" fill="#2aa396"/>
<path d="M328.06 721.57A149 149 0 0 1 327.53 722.39L324.85 720.65A145.8 145.8 0 0 0 325.36 719.85Z" fill="#7fcfc4"/>
<path d="M328.32 721.16A149 149 0 0 1 328.06 721.57L325.36 719.85A145.8 145.8 0 0 0 325.61 719.45Z" fill="#0d7f6c"/>
<path d="M330.35 717.85A149 149 0 0 1 328.32 721.16L325.61 719.45A145.8 145.8 0 0 0 327.6 716.21Z" fill="#7fe5cc"/>
<path d="M331.82 715.34A149 149 0 0 1 330.35 717.85L327.6 716.21A145.8 145.8 0 0 0 329.04 713.75Z" fill="#d5ecea"/>
<path d="M332.06 714.92A149 149 0 0 1 331.82 715.34L329.04 713.75A145.8 145.8 0 0 0 329.27 713.34Z" fill="#2a5a55"/>
<path d="M332.3 714.49A149 149 0 0 1 332.06 714.92L329.27 713.34A145.8 145.8 0 0 0 329.51 712.93Z" fill="#1f8a78"/>
<path d="M332.53 714.07A149 149 0 0 1 332.3 714.49L329.51 712.93A145.8 145.8 0 0 0 329.74 712.51Z" fill="#0b8a45"/>
<path d="M332.77 713.65A149 149 0 0 1 332.53 714.07L329.74 712.51A145.8 145.8 0 0 0 329.97 712.1Z" fill="#b5a84a"/>
<path d="M333 713.22A149 149 0 0 1 332.77 713.65L329.97 712.1A145.8 145.8 0 0 0 330.2 711.68Z" fill="#2a63a0"/>
<path d="M333.47 712.37A149 149 0 0 1 333 713.22L330.2 711.68A145.8 145.8 0 0 0 330.65 710.85Z" fill="#1010e0"/>
<path d="M323.72 728A149 149 0 0 1 322.87 729.19L320.28 727.3A145.8 145.8 0 0 0 321.11 726.15Z" fill="#6fb0e0"/>
<path d="M324 727.61A149 149 0 0 1 323.72 728L321.11 726.15A145.8 145.8 0 0 0 321.39 725.76Z" fill="#9fb5e0"/>
<path d="M324.56 726.81A149 149 0 0 1 324 727.61L321.39 725.76A145.8 145.8 0 0 0 321.93 724.98Z" fill="#cdb8b0"/>
<path d="M325.66 725.22A149 149 0 0 1 324.56 726.81L321.93 724.98A145.8 145.8 0 0 0 323.01 723.42Z" fill="#f02070"/>
<path d="M325.93 724.81A149 149 0 0 1 325.66 725.22L323.01 723.42A145.8 145.8 0 0 0 323.28 723.03Z" fill="#e0b070"/>
<path d="M326.2 724.41A149 149 0 0 1 325.93 724.81L323.28 723.03A145.8 145.8 0 0 0 323.54 722.63Z" fill="#2010e0"/>
<path d="M326.47 724.01A149 149 0 0 1 326.2 724.41L323.54 722.63A145.8 145.8 0 0 0 323.81 722.24Z" fill="#c01860"/>
<path d="M326.74 723.6A149 149 0 0 1 326.47 724.01L323.81 722.24A145.8 145.8 0 0 0 324.07 721.84Z" fill="#d895b0"/>
<path d="M315.45 738.56A149 149 0 0 1 314.94 739.15L312.52 737.06A145.8 145.8 0 0 0 313.02 736.48Z" fill="#0d7f6c"/>
<path d="M315.7 738.27A149 149 0 0 1 315.45 738.56L313.02 736.48A145.8 145.8 0 0 0 313.27 736.19Z" fill="#7fe5cc"/>
<path d="M316.21 737.67A149 149 0 0 1 315.7 738.27L313.27 736.19A145.8 145.8 0 0 0 313.76 735.61Z" fill="#d5ecea"/>
<path d="M316.46 737.37A149 149 0 0 1 316.21 737.67L313.76 735.61A145.8 145.8 0 0 0 314.01 735.32Z" fill="#8fd8d0"/>
<path d="M316.71 737.08A149 149 0 0 1 316.46 737.37L314.01 735.32A145.8 145.8 0 0 0 314.25 735.02Z" fill="#3fe09a"/>
<path d="M312.87 741.49A149 149 0 0 1 312.61 741.78L310.24 739.63A145.8 145.8 0 0 0 310.49 739.34Z" fill="#f02070"/>
<path d="M313.13 741.2A149 149 0 0 1 312.87 741.49L310.49 739.34A145.8 145.8 0 0 0 310.75 739.06Z" fill="#f5b050"/>
<path d="M313.39 740.91A149 149 0 0 1 313.13 741.2L310.75 739.06A145.8 145.8 0 0 0 311.01 738.78Z" fill="#e0b070"/>
<path d="M313.65 740.62A149 149 0 0 1 313.39 740.91L311.01 738.78A145.8 145.8 0 0 0 311.26 738.49Z" fill="#c01860"/>
<path d="M314.42 739.74A149 149 0 0 1 313.65 740.62L311.26 738.49A145.8 145.8 0 0 0 312.02 737.63Z" fill="#d895b0"/>
<path d="M314.94 739.15A149 149 0 0 1 314.42 739.74L312.02 737.63A145.8 145.8 0 0 0 312.52 737.06Z" fill="#f070a8"/>
<path d="M304.33 750.18A149 149 0 0 1 303.81 750.67L301.63 748.32A145.8 145.8 0 0 0 302.14 747.85Z" fill="#2aa396"/>
<path d="M304.59 749.94A149 149 0 0 1 304.33 750.18L302.14 747.85A145.8 145.8 0 0 0 302.39 747.61Z" fill="#0b8a45"/>
<path d="M303.02 751.39A149 149 0 0 1 302.76 751.63L300.6 749.27A145.8 145.8 0 0 0 300.86 749.03Z" fill="#f59a20"/>
<path d="M303.28 751.15A149 149 0 0 1 303.02 751.39L300.86 749.03A145.8 145.8 0 0 0 301.12 748.8Z" fill="#f02070"/>
<path d="M303.54 750.91A149 149 0 0 1 303.28 751.15L301.12 748.8A145.8 145.8 0 0 0 301.37 748.56Z" fill="#c01860"/>
<path d="M303.81 750.67A149 149 0 0 1 303.54 750.91L301.37 748.56A145.8 145.8 0 0 0 301.63 748.32Z" fill="#d895b0"/>
<path d="M286.19 764.71A149 149 0 0 1 285.42 765.23L283.63 762.57A145.8 145.8 0 0 0 284.39 762.06Z" fill="#2aa396"/>
<path d="M286.58 764.44A149 149 0 0 1 286.19 764.71L284.39 762.06A145.8 145.8 0 0 0 284.77 761.8Z" fill="#0d7f6c"/>
<path d="M287.35 763.91A149 149 0 0 1 286.58 764.44L284.77 761.8A145.8 145.8 0 0 0 285.53 761.28Z" fill="#1fd6a0"/>
<path d="M287.74 763.64A149 149 0 0 1 287.35 763.91L285.53 761.28A145.8 145.8 0 0 0 285.9 761.02Z" fill="#7fe5cc"/>
<path d="M288.12 763.37A149 149 0 0 1 287.74 763.64L285.9 761.02A145.8 145.8 0 0 0 286.28 760.76Z" fill="#3fe09a"/>
<path d="M288.5 763.1A149 149 0 0 1 288.12 763.37L286.28 760.76A145.8 145.8 0 0 0 286.65 760.49Z" fill="#20806a"/>
<path d="M284.64 765.75A149 149 0 0 1 284.25 766.01L282.49 763.33A145.8 145.8 0 0 0 282.87 763.08Z" fill="#2a1a8a"/>
<path d="M285.03 765.49A149 149 0 0 1 284.64 765.75L282.87 763.08A145.8 145.8 0 0 0 283.25 762.83Z" fill="#f090b8"/>
<path d="M285.42 765.23A149 149 0 0 1 285.03 765.49L283.25 762.83A145.8 145.8 0 0 0 283.63 762.57Z" fill="#f070a8"/>
<path d="M267.65 775.45A149 149 0 0 1 267.16 775.69L265.77 772.81A145.8 145.8 0 0 0 266.25 772.58Z" fill="#a8ddd5"/>
<path d="M268.14 775.21A149 149 0 0 1 267.65 775.45L266.25 772.58A145.8 145.8 0 0 0 266.73 772.34Z" fill="#7fcfc4"/>
<path d="M273.47 772.46A149 149 0 0 1 268.14 775.21L266.73 772.34A145.8 145.8 0 0 0 271.95 769.64Z" fill="#0d7f6c"/>
<path d="M273.95 772.19A149 149 0 0 1 273.47 772.46L271.95 769.64A145.8 145.8 0 0 0 272.42 769.39Z" fill="#7fe5cc"/>
<path d="M245.43 784.15A149 149 0 0 1 235.12 786.86L234.42 783.74A145.8 145.8 0 0 0 244.5 781.09Z" fill="#2aa396"/>
<path d="M247.47 783.52A149 149 0 0 1 245.43 784.15L244.5 781.09A145.8 145.8 0 0 0 246.5 780.47Z" fill="#7fcfc4"/>
<path d="M248.99 783.03A149 149 0 0 1 247.47 783.52L246.5 780.47A145.8 145.8 0 0 0 247.99 779.99Z" fill="#0d7f6c"/>
<path d="M251.51 782.17A149 149 0 0 1 248.99 783.03L247.99 779.99A145.8 145.8 0 0 0 250.46 779.15Z" fill="#7fe5cc"/>
<path d="M252.52 781.82A149 149 0 0 1 251.51 782.17L250.46 779.15A145.8 145.8 0 0 0 251.44 778.8Z" fill="#d5ecea"/>
<path d="M253.02 781.64A149 149 0 0 1 252.52 781.82L251.44 778.8A145.8 145.8 0 0 0 251.93 778.63Z" fill="#1f8a78"/>
<path d="M253.52 781.46A149 149 0 0 1 253.02 781.64L251.93 778.63A145.8 145.8 0 0 0 252.42 778.45Z" fill="#30b080"/>
<path d="M254.02 781.27A149 149 0 0 1 253.52 781.46L252.42 778.45A145.8 145.8 0 0 0 252.91 778.27Z" fill="#20806a"/>
<path d="M255.02 780.9A149 149 0 0 1 254.02 781.27L252.91 778.27A145.8 145.8 0 0 0 253.89 777.91Z" fill="#40e0a0"/>
<path d="M255.52 780.71A149 149 0 0 1 255.02 780.9L253.89 777.91A145.8 145.8 0 0 0 254.38 777.72Z" fill="#30c080"/>
<path d="M256.02 780.52A149 149 0 0 1 255.52 780.71L254.38 777.72A145.8 145.8 0 0 0 254.86 777.53Z" fill="#b5a84a"/>
<path d="M256.51 780.33A149 149 0 0 1 256.02 780.52L254.86 777.53A145.8 145.8 0 0 0 255.35 777.35Z" fill="#2a63a0"/>
<path d="M257.01 780.13A149 149 0 0 1 256.51 780.33L255.35 777.35A145.8 145.8 0 0 0 255.84 777.15Z" fill="#6fb0e0"/>
<path d="M224.64 788.83A149 149 0 0 1 224.11 788.91L223.65 785.74A145.8 145.8 0 0 0 224.16 785.67Z" fill="#f01878"/>
<path d="M231.47 787.64A149 149 0 0 1 224.64 788.83L224.16 785.67A145.8 145.8 0 0 0 230.84 784.5Z" fill="#f59a20"/>
<path d="M231.99 787.53A149 149 0 0 1 231.47 787.64L230.84 784.5A145.8 145.8 0 0 0 231.36 784.4Z" fill="#f5b040"/>
<path d="M233.56 787.21A149 149 0 0 1 231.99 787.53L231.36 784.4A145.8 145.8 0 0 0 232.89 784.08Z" fill="#f5b050"/>
<path d="M235.12 786.86A149 149 0 0 1 233.56 787.21L232.89 784.08A145.8 145.8 0 0 0 234.42 783.74Z" fill="#f090b8"/>
<path d="M204.57 790.48A149 149 0 0 1 204.07 790.49L204.04 787.29A145.8 145.8 0 0 0 204.53 787.28Z" fill="#2aa396"/>
<path d="M206.58 790.44A149 149 0 0 1 204.57 790.48L204.53 787.28A145.8 145.8 0 0 0 206.49 787.24Z" fill="#0d7f6c"/>
<path d="M207.08 790.43A149 149 0 0 1 206.58 790.44L206.49 787.24A145.8 145.8 0 0 0 206.98 787.23Z" fill="#7fe5cc"/>
<path d="M204.07 790.49A149 149 0 0 1 203.57 790.5L203.55 787.3A145.8 145.8 0 0 0 204.04 787.29Z" fill="#d895b0"/>
<path d="M176.63 788.25A149 149 0 0 1 175.4 788.03L175.98 784.89A145.8 145.8 0 0 0 177.18 785.1Z" fill="#a8ddd5"/>
<path d="M179.09 788.67A149 149 0 0 1 176.63 788.25L177.18 785.1A145.8 145.8 0 0 0 179.59 785.5Z" fill="#2aa396"/>
<path d="M181.15 788.98A149 149 0 0 1 179.09 788.67L179.59 785.5A145.8 145.8 0 0 0 181.6 785.81Z" fill="#7fcfc4"/>
<path d="M181.56 789.04A149 149 0 0 1 181.15 788.98L181.6 785.81A145.8 145.8 0 0 0 182.01 785.87Z" fill="#1fd6a0"/>
<path d="M181.97 789.09A149 149 0 0 1 181.56 789.04L182.01 785.87A145.8 145.8 0 0 0 182.41 785.92Z" fill="#7fe5cc"/>
<path d="M182.38 789.15A149 149 0 0 1 181.97 789.09L182.41 785.92A145.8 145.8 0 0 0 182.81 785.98Z" fill="#2a5a55"/>
<path d="M182.8 789.2A149 149 0 0 1 182.38 789.15L182.81 785.98A145.8 145.8 0 0 0 183.22 786.03Z" fill="#30c080"/>
<path d="M183.21 789.26A149 149 0 0 1 182.8 789.2L183.22 786.03A145.8 145.8 0 0 0 183.62 786.09Z" fill="#6fb0e0"/>
<path d="M184.45 789.41A149 149 0 0 1 183.21 789.26L183.62 786.09A145.8 145.8 0 0 0 184.83 786.24Z" fill="#f9a9a0"/>
<path d="M184.86 789.46A149 149 0 0 1 184.45 789.41L184.83 786.24A145.8 145.8 0 0 0 185.24 786.29Z" fill="#cdb8b0"/>
<path d="M185.27 789.51A149 149 0 0 1 184.86 789.46L185.24 786.29A145.8 145.8 0 0 0 185.64 786.33Z" fill="#f01878"/>
<path d="M167.26 786.3A149 149 0 0 1 166.86 786.2L167.62 783.09A145.8 145.8 0 0 0 168.02 783.19Z" fill="#f59a20"/>
<path d="M168.07 786.49A149 149 0 0 1 167.26 786.3L168.02 783.19A145.8 145.8 0 0 0 168.81 783.38Z" fill="#f5b040"/>
<path d="M168.48 786.59A149 149 0 0 1 168.07 786.49L168.81 783.38A145.8 145.8 0 0 0 169.21 783.47Z" fill="#f5b050"/>
<path d="M168.88 786.68A149 149 0 0 1 168.48 786.59L169.21 783.47A145.8 145.8 0 0 0 169.6 783.56Z" fill="#e0b070"/>
<path d="M169.29 786.77A149 149 0 0 1 168.88 786.68L169.6 783.56A145.8 145.8 0 0 0 170 783.65Z" fill="#2a1a8a"/>
<path d="M169.69 786.87A149 149 0 0 1 169.29 786.77L170 783.65A145.8 145.8 0 0 0 170.4 783.74Z" fill="#c01860"/>
<path d="M170.1 786.96A149 149 0 0 1 169.69 786.87L170.4 783.74A145.8 145.8 0 0 0 170.79 783.83Z" fill="#d895b0"/>
<path d="M172.13 787.39A149 149 0 0 1 170.1 786.96L170.79 783.83A145.8 145.8 0 0 0 172.78 784.26Z" fill="#f090b8"/>
<path d="M175.4 788.03A149 149 0 0 1 172.13 787.39L172.78 784.26A145.8 145.8 0 0 0 175.98 784.89Z" fill="#f070a8"/>
<path d="M139.01 776.34A149 149 0 0 1 134.65 774.2L136.1 771.35A145.8 145.8 0 0 0 140.37 773.45Z" fill="#2aa396"/>
<path d="M141.65 777.55A149 149 0 0 1 139.01 776.34L140.37 773.45A145.8 145.8 0 0 0 142.96 774.63Z" fill="#7fcfc4"/>
<path d="M142.54 777.95A149 149 0 0 1 141.65 777.55L142.96 774.63A145.8 145.8 0 0 0 143.83 775.02Z" fill="#0b8a45"/>
<path d="M142.99 778.14A149 149 0 0 1 142.54 777.95L143.83 775.02A145.8 145.8 0 0 0 144.26 775.21Z" fill="#30c080"/>
<path d="M133.35 773.54A149 149 0 0 1 131.21 772.39L132.74 769.58A145.8 145.8 0 0 0 134.84 770.7Z" fill="#f02070"/>
<path d="M133.78 773.76A149 149 0 0 1 133.35 773.54L134.84 770.7A145.8 145.8 0 0 0 135.26 770.92Z" fill="#f5b050"/>
<path d="M134.22 773.98A149 149 0 0 1 133.78 773.76L135.26 770.92A145.8 145.8 0 0 0 135.68 771.14Z" fill="#301090"/>
<path d="M134.65 774.2A149 149 0 0 1 134.22 773.98L135.68 771.14A145.8 145.8 0 0 0 136.1 771.35Z" fill="#d895b0"/>
<path d="M115.61 762.61A149 149 0 0 1 114.62 761.9L116.51 759.31A145.8 145.8 0 0 0 117.47 760.01Z" fill="#2aa396"/>
<path d="M115.94 762.85A149 149 0 0 1 115.61 762.61L117.47 760.01A145.8 145.8 0 0 0 117.8 760.24Z" fill="#7fcfc4"/>
<path d="M116.27 763.09A149 149 0 0 1 115.94 762.85L117.8 760.24A145.8 145.8 0 0 0 118.12 760.47Z" fill="#0d7f6c"/>
<path d="M116.6 763.32A149 149 0 0 1 116.27 763.09L118.12 760.47A145.8 145.8 0 0 0 118.45 760.7Z" fill="#d5ecea"/>
<path d="M116.94 763.55A149 149 0 0 1 116.6 763.32L118.45 760.7A145.8 145.8 0 0 0 118.77 760.93Z" fill="#40e0a0"/>
<path d="M114.62 761.9A149 149 0 0 1 114.29 761.66L116.19 759.08A145.8 145.8 0 0 0 116.51 759.31Z" fill="#d895b0"/>
<path d="M103.59 753.02A149 149 0 0 1 102.84 752.36L104.98 749.97A145.8 145.8 0 0 0 105.71 750.63Z" fill="#2aa396"/>
<path d="M103.96 753.35A149 149 0 0 1 103.59 753.02L105.71 750.63A145.8 145.8 0 0 0 106.08 750.95Z" fill="#7fcfc4"/>
<path d="M105.1 754.34A149 149 0 0 1 103.96 753.35L106.08 750.95A145.8 145.8 0 0 0 107.19 751.92Z" fill="#0d7f6c"/>
<path d="M105.48 754.67A149 149 0 0 1 105.1 754.34L107.19 751.92A145.8 145.8 0 0 0 107.56 752.24Z" fill="#7fe5cc"/>
<path d="M105.86 754.99A149 149 0 0 1 105.48 754.67L107.56 752.24A145.8 145.8 0 0 0 107.93 752.56Z" fill="#d5ecea"/>
<path d="M106.24 755.32A149 149 0 0 1 105.86 754.99L107.93 752.56A145.8 145.8 0 0 0 108.31 752.87Z" fill="#0b8a45"/>
<path d="M106.62 755.64A149 149 0 0 1 106.24 755.32L108.31 752.87A145.8 145.8 0 0 0 108.68 753.19Z" fill="#20806a"/>
<path d="M102.84 752.36A149 149 0 0 1 102.47 752.02L104.61 749.65A145.8 145.8 0 0 0 104.98 749.97Z" fill="#c01860"/>
<path d="M86.12 734.66A149 149 0 0 1 85.1 733.38L87.62 731.4A145.8 145.8 0 0 0 88.61 732.66Z" fill="#a8ddd5"/>
<path d="M86.8 735.51A149 149 0 0 1 86.12 734.66L88.61 732.66A145.8 145.8 0 0 0 89.28 733.49Z" fill="#2aa396"/>
<path d="M87.15 735.93A149 149 0 0 1 86.8 735.51L89.28 733.49A145.8 145.8 0 0 0 89.62 733.91Z" fill="#7fcfc4"/>
<path d="M87.49 736.36A149 149 0 0 1 87.15 735.93L89.62 733.91A145.8 145.8 0 0 0 89.96 734.32Z" fill="#0d7f6c"/>
<path d="M87.84 736.78A149 149 0 0 1 87.49 736.36L89.96 734.32A145.8 145.8 0 0 0 90.3 734.73Z" fill="#1fd6a0"/>
<path d="M88.19 737.2A149 149 0 0 1 87.84 736.78L90.3 734.73A145.8 145.8 0 0 0 90.65 735.14Z" fill="#d5ecea"/>
<path d="M88.54 737.61A149 149 0 0 1 88.19 737.2L90.65 735.14A145.8 145.8 0 0 0 90.99 735.55Z" fill="#3fe09a"/>
<path d="M88.9 738.03A149 149 0 0 1 88.54 737.61L90.99 735.55A145.8 145.8 0 0 0 91.33 735.96Z" fill="#40e0a0"/>
<path d="M89.25 738.45A149 149 0 0 1 88.9 738.03L91.33 735.96A145.8 145.8 0 0 0 91.68 736.36Z" fill="#f5b040"/>
<path d="M89.61 738.86A149 149 0 0 1 89.25 738.45L91.68 736.36A145.8 145.8 0 0 0 92.03 736.77Z" fill="#f02070"/>
<path d="M85.1 733.38A149 149 0 0 1 84.43 732.51L86.96 730.56A145.8 145.8 0 0 0 87.62 731.4Z" fill="#d895b0"/>
<path d="M76.15 720.63A149 149 0 0 1 75.93 720.28L78.65 718.59A145.8 145.8 0 0 0 78.86 718.93Z" fill="#2aa396"/>
<path d="M76.82 721.69A149 149 0 0 1 76.15 720.63L78.86 718.93A145.8 145.8 0 0 0 79.52 719.97Z" fill="#7fcfc4"/>
<path d="M77.04 722.04A149 149 0 0 1 76.82 721.69L79.52 719.97A145.8 145.8 0 0 0 79.74 720.31Z" fill="#0d7f6c"/>
<path d="M77.27 722.39A149 149 0 0 1 77.04 722.04L79.74 720.31A145.8 145.8 0 0 0 79.96 720.65Z" fill="#1fd6a0"/>
<path d="M77.49 722.74A149 149 0 0 1 77.27 722.39L79.96 720.65A145.8 145.8 0 0 0 80.18 720.99Z" fill="#7fe5cc"/>
<path d="M77.72 723.09A149 149 0 0 1 77.49 722.74L80.18 720.99A145.8 145.8 0 0 0 80.4 721.33Z" fill="#d5ecea"/>
<path d="M77.95 723.43A149 149 0 0 1 77.72 723.09L80.4 721.33A145.8 145.8 0 0 0 80.62 721.68Z" fill="#0b8a45"/>
<path d="M78.18 723.78A149 149 0 0 1 77.95 723.43L80.62 721.68A145.8 145.8 0 0 0 80.85 722.01Z" fill="#20806a"/>
<path d="M78.41 724.13A149 149 0 0 1 78.18 723.78L80.85 722.01A145.8 145.8 0 0 0 81.07 722.35Z" fill="#f9a9a0"/>
<path d="M78.64 724.47A149 149 0 0 1 78.41 724.13L81.07 722.35A145.8 145.8 0 0 0 81.3 722.69Z" fill="#f01878"/>
<path d="M78.87 724.82A149 149 0 0 1 78.64 724.47L81.3 722.69A145.8 145.8 0 0 0 81.53 723.03Z" fill="#f5b040"/>
<path d="M75.71 719.93A149 149 0 0 1 75.49 719.57L78.22 717.9A145.8 145.8 0 0 0 78.43 718.24Z" fill="#301090"/>
<path d="M75.93 720.28A149 149 0 0 1 75.71 719.93L78.43 718.24A145.8 145.8 0 0 0 78.65 718.59Z" fill="#f090b8"/>
<path d="M67.35 704.45A149 149 0 0 1 67.16 704.05L70.07 702.7A145.8 145.8 0 0 0 70.25 703.09Z" fill="#2aa396"/>
<path d="M67.54 704.85A149 149 0 0 1 67.35 704.45L70.25 703.09A145.8 145.8 0 0 0 70.43 703.49Z" fill="#7fcfc4"/>
<path d="M67.73 705.25A149 149 0 0 1 67.54 704.85L70.43 703.49A145.8 145.8 0 0 0 70.62 703.88Z" fill="#0b8a45"/>
<path d="M67.91 705.65A149 149 0 0 1 67.73 705.25L70.62 703.88A145.8 145.8 0 0 0 70.8 704.27Z" fill="#30c080"/>
<path d="M67.16 704.05A149 149 0 0 1 66.98 703.64L69.89 702.31A145.8 145.8 0 0 0 70.07 702.7Z" fill="#301090"/>
<path d="M63.39 695.14A149 149 0 0 1 63.02 694.17L66.01 693.04A145.8 145.8 0 0 0 66.38 693.99Z" fill="#2aa396"/>
<path d="M63.58 695.62A149 149 0 0 1 63.39 695.14L66.38 693.99A145.8 145.8 0 0 0 66.56 694.46Z" fill="#d5ecea"/>
<path d="M59.6 684.04A149 149 0 0 1 58.72 680.94L61.8 680.1A145.8 145.8 0 0 0 62.67 683.12Z" fill="#2aa396"/>
<path d="M59.75 684.55A149 149 0 0 1 59.6 684.04L62.67 683.12A145.8 145.8 0 0 0 62.82 683.63Z" fill="#3fe09a"/>
<path d="M59.91 685.06A149 149 0 0 1 59.75 684.55L62.82 683.63A145.8 145.8 0 0 0 62.97 684.13Z" fill="#40e0a0"/>
<path d="M56.04 669.42A149 149 0 0 1 55.94 668.91L59.09 668.32A145.8 145.8 0 0 0 59.18 668.82Z" fill="#2aa396"/>
<path d="M53.63 649.73A149 149 0 0 1 53.59 649.09L56.79 648.93A145.8 145.8 0 0 0 56.82 649.55Z" fill="#2aa396"/>
<path d="M53.7 651A149 149 0 0 1 53.63 649.73L56.82 649.55A145.8 145.8 0 0 0 56.9 650.79Z" fill="#0d7f6c"/>
<path d="M53.75 651.63A149 149 0 0 1 53.7 651L56.9 650.79A145.8 145.8 0 0 0 56.94 651.42Z" fill="#2010e0"/>
<path d="M53.63 633.24A149 149 0 0 1 53.67 632.48L56.87 632.68A145.8 145.8 0 0 0 56.82 633.42Z" fill="#a8ddd5"/>
<path d="M53.59 634.01A149 149 0 0 1 53.63 633.24L56.82 633.42A145.8 145.8 0 0 0 56.78 634.17Z" fill="#7fcfc4"/>
<path d="M53.55 634.77A149 149 0 0 1 53.59 634.01L56.78 634.17A145.8 145.8 0 0 0 56.75 634.92Z" fill="#30c080"/>
<path d="M53.49 636.3A149 149 0 0 1 53.55 634.77L56.75 634.92A145.8 145.8 0 0 0 56.69 636.41Z" fill="#c01860"/>
<path d="M56.14 613.07A149 149 0 0 1 56.37 611.92L59.5 612.56A145.8 145.8 0 0 0 59.28 613.68Z" fill="#7fcfc4"/>
<path d="M56.03 613.64A149 149 0 0 1 56.14 613.07L59.28 613.68A145.8 145.8 0 0 0 59.17 614.24Z" fill="#0d7f6c"/>
<path d="M55.71 615.37A149 149 0 0 1 56.03 613.64L59.17 614.24A145.8 145.8 0 0 0 58.86 615.93Z" fill="#d5ecea"/>
<path d="M60.37 596.46A149 149 0 0 1 60.5 596.04L63.55 597.01A145.8 145.8 0 0 0 63.42 597.43Z" fill="#2aa396"/>
<path d="M60.24 596.88A149 149 0 0 1 60.37 596.46L63.42 597.43A145.8 145.8 0 0 0 63.29 597.84Z" fill="#7fcfc4"/>
<path d="M60.1 597.31A149 149 0 0 1 60.24 596.88L63.29 597.84A145.8 145.8 0 0 0 63.16 598.26Z" fill="#7fe5cc"/>
<path d="M59.97 597.73A149 149 0 0 1 60.1 597.31L63.16 598.26A145.8 145.8 0 0 0 63.03 598.67Z" fill="#d5ecea"/>
<path d="M59.84 598.16A149 149 0 0 1 59.97 597.73L63.03 598.67A145.8 145.8 0 0 0 62.91 599.09Z" fill="#209068"/>
<path d="M59.72 598.58A149 149 0 0 1 59.84 598.16L62.91 599.09A145.8 145.8 0 0 0 62.78 599.5Z" fill="#40e0a0"/>
<path d="M59.59 599.01A149 149 0 0 1 59.72 598.58L62.78 599.5A145.8 145.8 0 0 0 62.66 599.92Z" fill="#2a1a8a"/>
<path d="M59.46 599.43A149 149 0 0 1 59.59 599.01L62.66 599.92A145.8 145.8 0 0 0 62.53 600.33Z" fill="#c01860"/>
<path d="M60.35 570.06A159 159 0 0 1 98.09 521.5L102.29 526.33A152.6 152.6 0 0 0 66.07 572.93Z" fill="#0d5a48"/>
<path d="M103.86 516.72A159 159 0 0 1 111.88 510.78L115.53 516.04A152.6 152.6 0 0 0 107.82 521.74Z" fill="#a8ddd5"/>
<path d="M118.38 506.51A159 159 0 0 1 176.98 484.55L178 490.86A152.6 152.6 0 0 0 121.76 511.95Z" fill="#2aa396"/>
<path d="M184.68 483.49A159 159 0 0 1 210.72 482.72L210.39 489.11A152.6 152.6 0 0 0 185.39 489.85Z" fill="#7fcfc4"/>
<path d="M217.92 483.26A159 159 0 0 1 245.69 488.51L243.95 494.67A152.6 152.6 0 0 0 217.29 489.63Z" fill="#0d7f6c"/>
<path d="M253.11 490.8A159 159 0 0 1 257.82 492.47L255.59 498.47A152.6 152.6 0 0 0 251.07 496.87Z" fill="#1fd6a0"/>
<path d="M264.27 495.03A159 159 0 0 1 282.62 504.22L279.39 509.75A152.6 152.6 0 0 0 261.78 500.93Z" fill="#7fe5cc"/>
<path d="M289 508.15A159 159 0 0 1 309.82 524.27L305.5 528.99A152.6 152.6 0 0 0 285.51 513.52Z" fill="#d5ecea"/>
<path d="M316 530.25A159 159 0 0 1 316.78 531.05L312.17 535.5A152.6 152.6 0 0 0 311.43 534.73Z" fill="#2a5a55"/>
<path d="M322.03 536.77A159 159 0 0 1 323.84 538.87L318.96 543A152.6 152.6 0 0 0 317.22 540.98Z" fill="#1f8a78"/>
<path d="M328.03 544.05A159 159 0 0 1 330.38 547.15L325.23 550.94A152.6 152.6 0 0 0 322.98 547.97Z" fill="#8fd8d0"/>
<path d="M338.69 559.61A159 159 0 0 1 343.05 567.34L337.39 570.33A152.6 152.6 0 0 0 333.2 562.91Z" fill="#0b8a45"/>
<path d="M346.62 574.56A159 159 0 0 1 347.08 575.56L341.26 578.22A152.6 152.6 0 0 0 340.81 577.25Z" fill="#30b080"/>
<path d="M350.13 582.71A159 159 0 0 1 350.54 583.74L344.58 586.07A152.6 152.6 0 0 0 344.19 585.08Z" fill="#209068"/>
<path d="M353.18 591.05A159 159 0 0 1 354.21 594.22L348.1 596.12A152.6 152.6 0 0 0 347.11 593.08Z" fill="#3fe09a"/>
<path d="M356.34 601.69A159 159 0 0 1 356.74 603.3L350.53 604.84A152.6 152.6 0 0 0 350.14 603.29Z" fill="#20806a"/>
<path d="M358.26 610.07A159 159 0 0 1 359.17 614.98L352.86 616.05A152.6 152.6 0 0 0 351.99 611.34Z" fill="#40e0a0"/>
<path d="M360.28 622.67A159 159 0 0 1 360.5 624.6L354.14 625.28A152.6 152.6 0 0 0 353.93 623.43Z" fill="#30c080"/>
<path d="M361.4 641.22A159 159 0 0 1 361.39 642.89L354.99 642.83A152.6 152.6 0 0 0 355 641.23Z" fill="#f0e060"/>
<path d="M361.12 650.93A159 159 0 0 1 360.84 654.8L354.46 654.27A152.6 152.6 0 0 0 354.73 650.55Z" fill="#b5a84a"/>
<path d="M359.93 663.08A159 159 0 0 1 359.08 668.56L352.77 667.47A152.6 152.6 0 0 0 353.59 662.21Z" fill="#e8d42a"/>
<path d="M357.45 676.73A159 159 0 0 1 353.45 691.16L347.37 689.16A152.6 152.6 0 0 0 351.21 675.31Z" fill="#2a63a0"/>
<path d="M347.43 706.68A159 159 0 0 1 346.03 709.7L340.25 706.96A152.6 152.6 0 0 0 341.59 704.05Z" fill="#1010e0"/>
<path d="M342.26 717.12A159 159 0 0 1 329.55 736.97L324.43 733.12A152.6 152.6 0 0 0 336.63 714.08Z" fill="#2a4d80"/>
<path d="M324.38 743.49A159 159 0 0 1 316.97 751.75L312.36 747.31A152.6 152.6 0 0 0 319.47 739.39Z" fill="#6fb0e0"/>
<path d="M311.45 757.22A159 159 0 0 1 308.17 760.22L303.91 755.44A152.6 152.6 0 0 0 307.06 752.56Z" fill="#9fb5e0"/>
<path d="M294.28 771.27A159 159 0 0 1 286.66 776.34L283.27 770.91A152.6 152.6 0 0 0 290.58 766.04Z" fill="#f9a9a0"/>
<path d="M278.76 780.97A159 159 0 0 1 268.34 786.18L265.68 780.36A152.6 152.6 0 0 0 275.68 775.35Z" fill="#cdb8b0"/>
<path d="M260.67 789.44A159 159 0 0 1 216.53 799.87L215.97 793.5A152.6 152.6 0 0 0 258.33 783.48Z" fill="#cc5a48"/>
<path d="M207.39 800.42A159 159 0 0 1 199.9 800.48L200 794.08A152.6 152.6 0 0 0 207.19 794.02Z" fill="#f01878"/>
<path d="M184.12 799.45A159 159 0 0 1 145.42 789.94L147.71 783.96A152.6 152.6 0 0 0 184.86 793.09Z" fill="#f03010"/>
<path d="M139 787.31A159 159 0 0 1 118.38 776.49L121.76 771.05A152.6 152.6 0 0 0 141.55 781.44Z" fill="#f59a20"/>
<path d="M111.2 771.75A159 159 0 0 1 105.61 767.64L109.5 762.57A152.6 152.6 0 0 0 114.87 766.5Z" fill="#f5b040"/>
<path d="M100.2 763.3A159 159 0 0 1 89.38 753.34L93.93 748.84A152.6 152.6 0 0 0 104.31 758.4Z" fill="#f02070"/>
<path d="M82.04 745.39A159 159 0 0 1 74.75 736.3L79.89 732.48A152.6 152.6 0 0 0 86.88 741.21Z" fill="#f5b050"/>
<path d="M70.58 730.41A159 159 0 0 1 66.11 723.39L71.6 720.09A152.6 152.6 0 0 0 75.89 726.83Z" fill="#e0b070"/>
<path d="M58.89 709.95A159 159 0 0 1 56.92 705.66L62.78 703.08A152.6 152.6 0 0 0 64.67 707.2Z" fill="#2010e0"/>
<path d="M54.26 699.26A159 159 0 0 1 53.08 696.14L59.09 693.94A152.6 152.6 0 0 0 60.22 696.93Z" fill="#301090"/>
<path d="M50.35 687.99A159 159 0 0 1 47.92 679.16L54.14 677.64A152.6 152.6 0 0 0 56.47 686.12Z" fill="#2a1a8a"/>
<path d="M46.22 671.29A159 159 0 0 1 46.01 670.2L52.31 669.05A152.6 152.6 0 0 0 52.5 670.09Z" fill="#6030c0"/>
<path d="M43.77 652.31A159 159 0 0 1 43.43 644.55L49.83 644.43A152.6 152.6 0 0 0 50.15 651.88Z" fill="#c01860"/>
<path d="M43.5 635.95A159 159 0 0 1 44.55 622.4L50.91 623.17A152.6 152.6 0 0 0 49.89 636.17Z" fill="#d895b0"/>
<path d="M45.86 613.62A159 159 0 0 1 47.54 605.46L53.77 606.91A152.6 152.6 0 0 0 52.16 614.74Z" fill="#f090b8"/>
<path d="M49.87 596.61A159 159 0 0 1 53.28 586.34L59.28 588.56A152.6 152.6 0 0 0 56.01 598.41Z" fill="#f070a8"/>
<path d="M35.34 557.48A187 187 0 0 1 352.92 530.53L347.76 534.33A180.6 180.6 0 0 0 41.06 560.35Z" fill="#0d5a48"/>
<path d="M362.69 545.19A187 187 0 0 1 388.38 621.95L382.01 622.62A180.6 180.6 0 0 0 357.2 548.48Z" fill="#0f9a50"/>
<path d="M389.4 640.85A187 187 0 0 1 386.67 673.33L380.36 672.24A180.6 180.6 0 0 0 383 640.87Z" fill="#e8d42a"/>
<path d="M384.75 682.93A187 187 0 0 1 325.08 782.63L320.88 777.8A180.6 180.6 0 0 0 378.51 681.51Z" fill="#1f5fa6"/>
<path d="M310.46 794.12A187 187 0 0 1 199.46 828.48L199.56 822.08A180.6 180.6 0 0 0 306.76 788.89Z" fill="#fbb0a8"/>
<path d="M181.23 827.3A187 187 0 0 1 42.11 737.81L47.6 734.52A180.6 180.6 0 0 0 181.96 820.94Z" fill="#f02810"/>
<path d="M33.62 722.01A187 187 0 0 1 18.24 673.97L24.54 672.86A180.6 180.6 0 0 0 39.39 719.25Z" fill="#3010f0"/>
<path d="M15.93 655.52A187 187 0 0 1 27.24 576.01L33.24 578.25A180.6 180.6 0 0 0 22.31 655.04Z" fill="#c01860"/>
<g font-family="Liberation Sans, Arial, sans-serif">
<path id="p1" d="M43.57 706.16A171.48 171.48 0 0 1 225.82 471.62" fill="none"/><text font-size="5.6" font-weight="normal" fill="#111" text-anchor="middle"><textPath href="#p1" startOffset="50%">FLT3 ITD</textPath></text>
<path id="p2" d="M32.02 660.91A171.48 171.48 0 0 1 270.78 484.24" fill="none"/><text font-size="5.6" font-weight="normal" fill="#111" text-anchor="middle"><textPath href="#p2" startOffset="50%">FLT3 TKD</textPath></text>
<path id="p3" d="M33.24 613.34A171.48 171.48 0 0 1 311.36 509.08" fill="none"/><text font-size="5.6" font-weight="normal" fill="#111" text-anchor="middle"><textPath href="#p3" startOffset="50%">NRAS</textPath></text>
<path id="p4" d="M51.41 560.2A171.48 171.48 0 0 1 348.3 551.39" fill="none"/><text font-size="5.6" font-weight="normal" fill="#111" text-anchor="middle"><textPath href="#p4" startOffset="50%">KRAS</textPath></text>
<path id="p5" d="M72.39 529.68A171.48 171.48 0 0 1 364.25 584.82" fill="none"/><text font-size="5.6" font-weight="normal" fill="#111" text-anchor="middle"><textPath href="#p5" startOffset="50%">PTPN11</textPath></text>
<path id="p6" d="M91.03 511.1A171.48 171.48 0 0 1 371.01 610.25" fill="none"/><text font-size="5.6" font-weight="normal" fill="#111" text-anchor="middle"><textPath href="#p6" startOffset="50%">CBL</textPath></text>
<path id="p7" d="M108 498.34A171.48 171.48 0 0 1 373.58 631.33" fill="none"/><text font-size="5.6" font-weight="normal" fill="#111" text-anchor="middle"><textPath href="#p7" startOffset="50%">CSF3R</textPath></text>
<path id="p8" d="M137.47 482.78A171.48 171.48 0 0 1 372.32 664.62" fill="none"/><text font-size="5.6" font-weight="normal" fill="#111" text-anchor="middle"><textPath href="#p8" startOffset="50%">KIT</textPath></text>
<path id="p9" d="M160.33 475.26A171.48 171.48 0 0 1 367.4 688.19" fill="none"/><text font-size="5.6" font-weight="normal" fill="#111" text-anchor="middle"><textPath href="#p9" startOffset="50%">BR</textPath></text>
<path id="p10" d="M170.56 473A171.48 171.48 0 0 1 364.25 698.18" fill="none"/><text font-size="5.6" font-weight="normal" fill="#111" text-anchor="middle"><textPath href="#p10" startOffset="50%">JA</textPath></text>
<path id="p11" d="M181.2 471.33A171.48 171.48 0 0 1 360.37 708.23" fill="none"/><text font-size="5.6" font-weight="normal" fill="#111" text-anchor="middle"><textPath href="#p11" startOffset="50%">PD</textPath></text>
<path id="p12" d="M204.2 470.03A171.48 171.48 0 0 1 350 728.79" fill="none"/><text font-size="5.6" font-weight="normal" fill="#111" text-anchor="middle"><textPath href="#p12" startOffset="50%">NO</textPath></text>
<path id="p13" d="M218.24 470.75A171.48 171.48 0 0 1 342.35 740.59" fill="none"/><text font-size="5.6" font-weight="normal" fill="#111" text-anchor="middle"><textPath href="#p13" startOffset="50%">MY</textPath></text>
<path id="p14" d="M227.75 471.9A171.48 171.48 0 0 1 336.6 748.25" fill="none"/><text font-size="5.6" font-weight="normal" fill="#111" text-anchor="middle"><textPath href="#p14" startOffset="50%">MP</textPath></text>
<path id="p15" d="M238.35 473.83A171.48 171.48 0 0 1 329.64 756.47" fill="none"/><text font-size="5.6" font-weight="normal" fill="#111" text-anchor="middle"><textPath href="#p15" startOffset="50%">PT</textPath></text>
<path id="p16" d="M249.09 476.5A171.48 171.48 0 0 1 321.95 764.44" fill="none"/><text font-size="5.6" font-weight="normal" fill="#111" text-anchor="middle"><textPath href="#p16" startOffset="50%">SE</textPath></text>
<path id="p17" d="M259.64 479.85A171.48 171.48 0 0 1 313.77 771.9" fill="none"/><text font-size="5.6" font-weight="normal" fill="#111" text-anchor="middle"><textPath href="#p17" startOffset="50%">AT</textPath></text>
<path id="p18" d="M270.92 484.3A171.48 171.48 0 0 1 304.28 779.44" fill="none"/><text font-size="5.6" font-weight="normal" fill="#111" text-anchor="middle"><textPath href="#p18" startOffset="50%">FB</textPath></text>
<path id="p19" d="M289.63 793.81A175.52 175.52 0 0 0 290.69 489.81" fill="none"/><text font-size="5.6" font-weight="normal" fill="#111" text-anchor="middle"><textPath href="#p19" startOffset="50%">SR</textPath></text>
<path id="p20" d="M279.07 799.39A175.52 175.52 0 0 0 300.8 496.16" fill="none"/><text font-size="5.6" font-weight="normal" fill="#111" text-anchor="middle"><textPath href="#p20" startOffset="50%">U2</textPath></text>
<path id="p21" d="M265.87 805.14A175.52 175.52 0 0 0 312.38 504.71" fill="none"/><text font-size="5.6" font-weight="normal" fill="#111" text-anchor="middle"><textPath href="#p21" startOffset="50%">ZR</textPath></text>
<path id="p22" d="M246.35 811.43A175.52 175.52 0 0 0 327.59 518.48" fill="none"/><text font-size="5.6" font-weight="normal" fill="#111" text-anchor="middle"><textPath href="#p22" startOffset="50%">BCORL1</textPath></text>
<path id="p23" d="M218.31 816.29A175.52 175.52 0 0 0 345.82 540.33" fill="none"/><text font-size="5.6" font-weight="normal" fill="#111" text-anchor="middle"><textPath href="#p23" startOffset="50%">BCOR</textPath></text>
<path id="p24" d="M194.29 816.83A175.52 175.52 0 0 0 358.3 560.86" fill="none"/><text font-size="5.6" font-weight="normal" fill="#111" text-anchor="middle"><textPath href="#p24" startOffset="50%">ASXL1</textPath></text>
<path id="p25" d="M166.21 813.24A175.52 175.52 0 0 0 369.23 586.97" fill="none"/><text font-size="5.6" font-weight="normal" fill="#111" text-anchor="middle"><textPath href="#p25" startOffset="50%">EZH2</textPath></text>
<path id="p26" d="M149.62 808.89A175.52 175.52 0 0 0 373.76 603.51" fill="none"/><text font-size="5.6" font-weight="normal" fill="#111" text-anchor="middle"><textPath href="#p26" startOffset="50%">KD</textPath></text>
<path id="p27" d="M124.5 798.78A175.52 175.52 0 0 0 377.56 630.33" fill="none"/><text font-size="5.6" font-weight="normal" fill="#111" text-anchor="middle"><textPath href="#p27" startOffset="50%">PHF6</textPath></text>
<path id="p28" d="M105.78 788.03A175.52 175.52 0 0 0 377.61 651.91" fill="none"/><text font-size="5.6" font-weight="normal" fill="#111" text-anchor="middle"><textPath href="#p28" startOffset="50%">TP53</textPath></text>
<path id="p29" d="M74.66 761.87A175.52 175.52 0 0 0 370.51 691.94" fill="none"/><text font-size="5.6" font-weight="normal" fill="#111" text-anchor="middle"><textPath href="#p29" startOffset="50%">WT1</textPath></text>
<path id="p30" d="M51.09 730.45A175.52 175.52 0 0 0 355.09 728.06" fill="none"/><text font-size="5.6" font-weight="normal" fill="#111" text-anchor="middle"><textPath href="#p30" startOffset="50%">CDKN2A</textPath></text>
<path id="p31" d="M33.85 690.47A175.52 175.52 0 0 0 329.08 762.98" fill="none"/><text font-size="5.6" font-weight="normal" fill="#111" text-anchor="middle"><textPath href="#p31" startOffset="50%">NPM1</textPath></text>
<path id="p32" d="M27.03 648.54A175.52 175.52 0 0 0 296.19 789.86" fill="none"/><text font-size="5.6" font-weight="normal" fill="#111" text-anchor="middle"><textPath href="#p32" startOffset="50%">CEBPA</textPath></text>
<path id="p33" d="M27.93 622.39A175.52 175.52 0 0 0 273.09 802.15" fill="none"/><text font-size="5.6" font-weight="normal" fill="#111" text-anchor="middle"><textPath href="#p33" startOffset="50%">ETV6</textPath></text>
<path id="p34" d="M31.14 603.06A175.52 175.52 0 0 0 254.74 809.03" fill="none"/><text font-size="5.6" font-weight="normal" fill="#111" text-anchor="middle"><textPath href="#p34" startOffset="50%">GATA2</textPath></text>
<path id="p35" d="M38.87 577.74A175.52 175.52 0 0 0 228.95 815" fill="none"/><text font-size="5.6" font-weight="normal" fill="#111" text-anchor="middle"><textPath href="#p35" startOffset="50%">CUX1</textPath></text>
<path id="p36" d="M46.72 560.46A175.52 175.52 0 0 0 210.06 816.85" fill="none"/><text font-size="5.6" font-weight="normal" fill="#111" text-anchor="middle"><textPath href="#p36" startOffset="50%">IKZF1</textPath></text>
<path id="p37" d="M59.24 539.95A175.52 175.52 0 0 0 186.03 816.25" fill="none"/><text font-size="5.6" font-weight="normal" fill="#111" text-anchor="middle"><textPath href="#p37" startOffset="50%">ST</textPath></text>
<path id="p38" d="M66.58 530.33A175.52 175.52 0 0 0 174.04 814.71" fill="none"/><text font-size="5.6" font-weight="normal" fill="#111" text-anchor="middle"><textPath href="#p38" startOffset="50%">SM</textPath></text>
<path id="p39" d="M77.54 518.15A175.52 175.52 0 0 0 158.01 811.31" fill="none"/><text font-size="5.6" font-weight="normal" fill="#111" text-anchor="middle"><textPath href="#p39" startOffset="50%">RAD</textPath></text>
<path id="p40" d="M88.18 508.24A175.52 175.52 0 0 0 144.1 807.05" fill="none"/><text font-size="5.6" font-weight="normal" fill="#111" text-anchor="middle"><textPath href="#p40" startOffset="50%">SMC</textPath></text>
<path id="p41" d="M123.22 793.61A171.48 171.48 0 0 1 110.26 496.87" fill="none"/><text font-size="5.6" font-weight="normal" fill="#111" text-anchor="middle"><textPath href="#p41" startOffset="50%">DN</textPath></text>
<path id="p42" d="M105.39 782.91A171.48 171.48 0 0 1 128.44 486.79" fill="none"/><text font-size="5.6" font-weight="normal" fill="#111" text-anchor="middle"><textPath href="#p42" startOffset="50%">TET2</textPath></text>
<path id="p43" d="M88.55 769.74A171.48 171.48 0 0 1 148.27 478.78" fill="none"/><text font-size="5.6" font-weight="normal" fill="#111" text-anchor="middle"><textPath href="#p43" startOffset="50%">IDH1</textPath></text>
<path id="p44" d="M74.26 755.46A171.48 171.48 0 0 1 167.77 473.55" fill="none"/><text font-size="5.6" font-weight="normal" fill="#111" text-anchor="middle"><textPath href="#p44" startOffset="50%">IDH2</textPath></text>
<path id="p45" d="M24.75 558.09A196.26 196.26 0 0 1 363.46 529.35" fill="none"/><text font-size="5.4" font-weight="normal" fill="#111" text-anchor="middle"><textPath href="#p45" startOffset="50%">Activated Signalling</textPath></text>
<path id="p46" d="M241.53 449.18A196.26 196.26 0 0 1 349.39 771.54" fill="none"/><text font-size="5.4" font-weight="normal" fill="#111" text-anchor="middle"><textPath href="#p46" startOffset="50%">Other</textPath></text>
<path id="p47" d="M287.32 821.96A199.44 199.44 0 0 0 316.23 477.73" fill="none"/><text font-size="5.4" font-weight="normal" fill="#111" text-anchor="middle"><textPath href="#p47" startOffset="50%">Spliceosome</textPath></text>
<path id="p48" d="M199.27 840.92A199.44 199.44 0 0 0 376.67 544.5" fill="none"/><text font-size="5.4" font-weight="normal" fill="#111" text-anchor="middle"><textPath href="#p48" startOffset="50%">Epigenetic Modifier</textPath></text>
<path id="p49" d="M66.89 787.84A199.44 199.44 0 0 0 396.89 685.69" fill="none"/><text font-size="5.4" font-weight="normal" fill="#111" text-anchor="middle"><textPath href="#p49" startOffset="50%">Tumor Supressor</textPath></text>
<path id="p50" d="M3.19 631.93A199.44 199.44 0 0 0 293.72 818.81" fill="none"/><text font-size="5.4" font-weight="normal" fill="#111" text-anchor="middle"><textPath href="#p50" startOffset="50%">Transcription Factor</textPath></text>
<path id="p51" d="M54.77 507.4A199.44 199.44 0 0 0 160.08 836.4" fill="none"/><text font-size="5.4" font-weight="normal" fill="#111" text-anchor="middle"><textPath href="#p51" startOffset="50%">Cohesin Complex</textPath></text>
<path id="p52" d="M81.3 795.94A196.26 196.26 0 0 1 129.2 459.41" fill="none"/><text font-size="5.4" font-weight="normal" fill="#111" text-anchor="middle"><textPath href="#p52" startOffset="50%">DNA Methylation</textPath></text>
</g>
<path d="M244.07 1181.88A142.6 142.6 0 0 1 236.74 1183.9Q202.4 1045.5 74.6 969.68A148.6 148.6 0 0 1 78.77 963.05Q202.4 1045.5 244.07 1181.88Z" fill="#d05a48" stroke="#fff" stroke-width="0.6"/>
<path d="M341.78 1075.63A142.6 142.6 0 0 1 340.01 1082.89Q202.4 1045.5 130.7 915.34A148.6 148.6 0 0 1 137.96 911.6Q202.4 1045.5 341.78 1075.63Z" fill="#2062a8" stroke="#fff" stroke-width="0.6"/>
<path d="M340.01 1082.89A142.6 142.6 0 0 1 337.87 1090.04Q202.4 1045.5 334.21 1114.12A148.6 148.6 0 0 1 330.77 1120.36Q202.4 1045.5 340.01 1082.89Z" fill="#2062a8" stroke="#fff" stroke-width="0.6"/>
<path d="M88.47 1131.25A142.6 142.6 0 0 1 60.72 1061.68Q202.4 1045.5 229.8 899.45A148.6 148.6 0 0 1 299.96 933.41Q202.4 1045.5 88.47 1131.25Z" fill="#a50a1e" stroke="#fff" stroke-width="0.6"/>
<path d="M93.18 1137.19A142.6 142.6 0 0 1 88.47 1131.25Q202.4 1045.5 334.13 976.73A148.6 148.6 0 0 1 337.4 983.4Q202.4 1045.5 93.18 1137.19Z" fill="#a50a1e" stroke="#fff" stroke-width="0.6"/>
<path d="M98.21 1142.86A142.6 142.6 0 0 1 93.18 1137.19Q202.4 1045.5 343.4 998.59A148.6 148.6 0 0 1 345.66 1006.04Q202.4 1045.5 98.21 1142.86Z" fill="#a50a1e" stroke="#fff" stroke-width="0.6"/>
<path d="M103.53 1148.26A142.6 142.6 0 0 1 98.21 1142.86Q202.4 1045.5 349.09 1021.74A148.6 148.6 0 0 1 350.1 1029.19Q202.4 1045.5 103.53 1148.26Z" fill="#a50a1e" stroke="#fff" stroke-width="0.6"/>
<path d="M109.13 1153.36A142.6 142.6 0 0 1 103.53 1148.26Q202.4 1045.5 350.8 1053.28A148.6 148.6 0 0 1 350.21 1060.77Q202.4 1045.5 109.13 1153.36Z" fill="#a50a1e" stroke="#fff" stroke-width="0.6"/>
<path d="M121.1 1162.65A142.6 142.6 0 0 1 109.13 1153.36Q202.4 1045.5 343.57 1091.91A148.6 148.6 0 0 1 337.94 1106.41Q202.4 1045.5 121.1 1162.65Z" fill="#a50a1e" stroke="#fff" stroke-width="0.6"/>
<path d="M127.43 1166.8A142.6 142.6 0 0 1 121.1 1162.65Q202.4 1045.5 330.77 1120.36A148.6 148.6 0 0 1 327.03 1126.43Q202.4 1045.5 127.43 1166.8Z" fill="#a50a1e" stroke="#fff" stroke-width="0.6"/>
<path d="M133.98 1170.62A142.6 142.6 0 0 1 127.43 1166.8Q202.4 1045.5 311.9 1145.96A148.6 148.6 0 0 1 306.37 1151.67Q202.4 1045.5 133.98 1170.62Z" fill="#a50a1e" stroke="#fff" stroke-width="0.6"/>
<path d="M140.73 1174.07A142.6 142.6 0 0 1 133.98 1170.62Q202.4 1045.5 301.64 1156.1A148.6 148.6 0 0 1 293.89 1162.6Q202.4 1045.5 140.73 1174.07Z" fill="#a50a1e" stroke="#fff" stroke-width="0.6"/>
<path d="M147.64 1177.17A142.6 142.6 0 0 1 140.73 1174.07Q202.4 1045.5 275.01 1175.15A148.6 148.6 0 0 1 267.77 1178.95Q202.4 1045.5 147.64 1177.17Z" fill="#a50a1e" stroke="#fff" stroke-width="0.6"/>
<path d="M176.66 1185.76A142.6 142.6 0 0 1 147.64 1177.17Q202.4 1045.5 222.62 1192.72A148.6 148.6 0 0 1 191 1193.66Q202.4 1045.5 176.66 1185.76Z" fill="#a50a1e" stroke="#fff" stroke-width="0.6"/>
<path d="M61.44 1023.91A142.6 142.6 0 0 1 64.53 1009.07Q202.4 1045.5 67.33 983.55A148.6 148.6 0 0 1 74.6 969.68Q202.4 1045.5 61.44 1023.91Z" fill="#a50a1e" stroke="#fff" stroke-width="0.6"/>
<path d="M59.95 1038.98A142.6 142.6 0 0 1 61.44 1023.91Q202.4 1045.5 99.77 938.03A148.6 148.6 0 0 1 110.91 928.4Q202.4 1045.5 59.95 1038.98Z" fill="#a50a1e" stroke="#fff" stroke-width="0.6"/>
<path d="M59.8 1046.56A142.6 142.6 0 0 1 59.95 1038.98Q202.4 1045.5 123.65 919.48A148.6 148.6 0 0 1 130.7 915.34Q202.4 1045.5 59.8 1046.56Z" fill="#a50a1e" stroke="#fff" stroke-width="0.6"/>
<path d="M60.06 1054.13A142.6 142.6 0 0 1 59.8 1046.56Q202.4 1045.5 159.45 903.24A148.6 148.6 0 0 1 166.95 901.19Q202.4 1045.5 60.06 1054.13Z" fill="#a50a1e" stroke="#fff" stroke-width="0.6"/>
<path d="M60.72 1061.68A142.6 142.6 0 0 1 60.06 1054.13Q202.4 1045.5 182.62 898.22A148.6 148.6 0 0 1 190.22 897.4Q202.4 1045.5 60.72 1061.68Z" fill="#a50a1e" stroke="#fff" stroke-width="0.6"/>
<path d="M258.35 1176.67A142.6 142.6 0 0 1 244.07 1181.88Q202.4 1045.5 299.96 933.41A148.6 148.6 0 0 1 311.29 944.38Q202.4 1045.5 258.35 1176.67Z" fill="#d05a48" stroke="#fff" stroke-width="0.6"/>
<path d="M317.18 1130.12A142.6 142.6 0 0 1 312.49 1136.14Q202.4 1045.5 311.29 944.38A148.6 148.6 0 0 1 316.5 950.3Q202.4 1045.5 317.18 1130.12Z" fill="#6db3e3" stroke="#fff" stroke-width="0.6"/>
<path d="M312.49 1136.14A142.6 142.6 0 0 1 307.48 1141.9Q202.4 1045.5 230.44 1191.43A148.6 148.6 0 0 1 222.62 1192.72Q202.4 1045.5 312.49 1136.14Z" fill="#6db3e3" stroke="#fff" stroke-width="0.6"/>
<path d="M278.81 1165.9A142.6 142.6 0 0 1 272.08 1169.92Q202.4 1045.5 238.18 1189.73A148.6 148.6 0 0 1 230.44 1191.43Q202.4 1045.5 278.81 1165.9Z" fill="#fcaaa2" stroke="#fff" stroke-width="0.6"/>
<path d="M345 1045.75A142.6 142.6 0 0 1 344.8 1052.96Q202.4 1045.5 316.5 950.3A148.6 148.6 0 0 1 321.39 956.49Q202.4 1045.5 345 1045.75Z" fill="#b8ad4a" stroke="#fff" stroke-width="0.6"/>
<path d="M154.1 911.33A142.6 142.6 0 0 1 161.18 908.99Q202.4 1045.5 222.01 898.2A148.6 148.6 0 0 1 229.8 899.45Q202.4 1045.5 154.1 911.33Z" fill="#df9ab8" stroke="#fff" stroke-width="0.6"/>
<path d="M176.17 905.33A142.6 142.6 0 0 1 183.42 904.17Q202.4 1045.5 214.17 897.37A148.6 148.6 0 0 1 222.01 898.2Q202.4 1045.5 176.17 905.33Z" fill="#f86fa6" stroke="#fff" stroke-width="0.6"/>
<path d="M67.25 1000.02A142.6 142.6 0 0 1 69.83 992.96Q202.4 1045.5 330.53 970.23A148.6 148.6 0 0 1 334.13 976.73Q202.4 1045.5 67.25 1000.02Z" fill="#f7941d" stroke="#fff" stroke-width="0.6"/>
<path d="M69.83 992.96A142.6 142.6 0 0 1 72.78 986.05Q202.4 1045.5 94.57 943.25A148.6 148.6 0 0 1 99.77 938.03Q202.4 1045.5 69.83 992.96Z" fill="#f7941d" stroke="#fff" stroke-width="0.6"/>
<path d="M94.19 952.62A142.6 142.6 0 0 1 98.93 947.38Q202.4 1045.5 326.6 963.92A148.6 148.6 0 0 1 330.53 970.23Q202.4 1045.5 94.19 952.62Z" fill="#f7206e" stroke="#fff" stroke-width="0.6"/>
<path d="M89.72 958.1A142.6 142.6 0 0 1 94.19 952.62Q202.4 1045.5 340.75 991.28A148.6 148.6 0 0 1 343.4 998.59Q202.4 1045.5 89.72 958.1Z" fill="#f7206e" stroke="#fff" stroke-width="0.6"/>
<path d="M206.13 902.95A142.6 142.6 0 0 1 213.69 903.35Q202.4 1045.5 347.7 1014.35A148.6 148.6 0 0 1 349.09 1021.74Q202.4 1045.5 206.13 902.95Z" fill="#0d5a48" stroke="#fff" stroke-width="0.6"/>
<path d="M83.35 1135.1A149 149 0 0 1 54.36 1062.41L57.54 1062.05A145.8 145.8 0 0 0 85.91 1133.18Z" fill="#0d5a48"/>
<path d="M88.28 1141.3A149 149 0 0 1 83.35 1135.1L85.91 1133.18A145.8 145.8 0 0 0 90.73 1139.24Z" fill="#2aa898"/>
<path d="M93.53 1147.23A149 149 0 0 1 88.28 1141.3L90.73 1139.24A145.8 145.8 0 0 0 95.87 1145.04Z" fill="#0f806c"/>
<path d="M99.09 1152.87A149 149 0 0 1 93.53 1147.23L95.87 1145.04A145.8 145.8 0 0 0 101.31 1150.56Z" fill="#80e8cc"/>
<path d="M104.94 1158.2A149 149 0 0 1 99.09 1152.87L101.31 1150.56A145.8 145.8 0 0 0 107.03 1155.78Z" fill="#b8ad4a"/>
<path d="M117.45 1167.91A149 149 0 0 1 104.94 1158.2L107.03 1155.78A145.8 145.8 0 0 0 119.27 1165.28Z" fill="#2062a8"/>
<path d="M124.07 1172.25A149 149 0 0 1 117.45 1167.91L119.27 1165.28A145.8 145.8 0 0 0 125.75 1169.53Z" fill="#2a4f85"/>
<path d="M130.91 1176.23A149 149 0 0 1 124.07 1172.25L125.75 1169.53A145.8 145.8 0 0 0 132.45 1173.42Z" fill="#6db3e3"/>
<path d="M137.96 1179.84A149 149 0 0 1 130.91 1176.23L132.45 1173.42A145.8 145.8 0 0 0 139.34 1176.96Z" fill="#9db4e2"/>
<path d="M145.19 1183.08A149 149 0 0 1 137.96 1179.84L139.34 1176.96A145.8 145.8 0 0 0 146.42 1180.12Z" fill="#fcaaa2"/>
<path d="M175.5 1192.05A149 149 0 0 1 145.19 1183.08L146.42 1180.12A145.8 145.8 0 0 0 176.08 1188.9Z" fill="#d05a48"/>
<path d="M55.12 1022.94A149 149 0 0 1 58.34 1007.44L61.44 1008.26A145.8 145.8 0 0 0 58.28 1023.42Z" fill="#f7941d"/>
<path d="M53.56 1038.69A149 149 0 0 1 55.12 1022.94L58.28 1023.42A145.8 145.8 0 0 0 56.75 1038.84Z" fill="#f7206e"/>
<path d="M53.4 1046.61A149 149 0 0 1 53.56 1038.69L56.75 1038.84A145.8 145.8 0 0 0 56.6 1046.58Z" fill="#2d1b96"/>
<path d="M53.67 1054.52A149 149 0 0 1 53.4 1046.61L56.6 1046.58A145.8 145.8 0 0 0 56.87 1054.33Z" fill="#df9ab8"/>
<path d="M54.36 1062.41A149 149 0 0 1 53.67 1054.52L56.87 1054.33A145.8 145.8 0 0 0 57.54 1062.05Z" fill="#f86fa6"/>
<path d="M260.86 1182.55A149 149 0 0 1 245.94 1188L245 1184.94A145.8 145.8 0 0 0 259.6 1179.61Z" fill="#0d5a48"/>
<path d="M245.94 1188A149 149 0 0 1 238.28 1190.12L237.51 1187.01A145.8 145.8 0 0 0 245 1184.94Z" fill="#f7941d"/>
<path d="M322.33 1133.92A149 149 0 0 1 317.43 1140.21L314.96 1138.17A145.8 145.8 0 0 0 319.75 1132.02Z" fill="#0d5a48"/>
<path d="M317.43 1140.21A149 149 0 0 1 312.2 1146.23L309.84 1144.06A145.8 145.8 0 0 0 314.96 1138.17Z" fill="#d05a48"/>
<path d="M282.24 1171.3A149 149 0 0 1 275.2 1175.5L273.64 1172.71A145.8 145.8 0 0 0 280.52 1168.6Z" fill="#d05a48"/>
<path d="M351.4 1045.76A149 149 0 0 1 351.2 1053.3L348 1053.13A145.8 145.8 0 0 0 348.2 1045.75Z" fill="#0d5a48"/>
<path d="M151.93 905.31A149 149 0 0 1 159.33 902.86L160.26 905.92A145.8 145.8 0 0 0 153.01 908.32Z" fill="#0d5a48"/>
<path d="M174.99 899.04A149 149 0 0 1 182.56 897.83L182.99 901A145.8 145.8 0 0 0 175.58 902.19Z" fill="#0d5a48"/>
<path d="M206.3 896.55A149 149 0 0 1 214.2 896.97L213.94 900.16A145.8 145.8 0 0 0 206.22 899.75Z" fill="#80e8cc"/>
<path d="M89.34 948.46A149 149 0 0 1 94.28 942.97L96.61 945.17A145.8 145.8 0 0 0 91.76 950.54Z" fill="#2aa898"/>
<path d="M84.67 954.18A149 149 0 0 1 89.34 948.46L91.76 950.54A145.8 145.8 0 0 0 87.2 956.14Z" fill="#0f806c"/>
<path d="M61.18 997.98A149 149 0 0 1 63.88 990.6L66.86 991.78A145.8 145.8 0 0 0 64.22 999Z" fill="#2aa898"/>
<path d="M63.88 990.6A149 149 0 0 1 66.97 983.38L69.88 984.71A145.8 145.8 0 0 0 66.86 991.78Z" fill="#f7206e"/>
<path d="M348.03 1076.99A149 149 0 0 1 346.19 1084.57L343.1 1083.73A145.8 145.8 0 0 0 344.91 1076.31Z" fill="#2d1b96"/>
<path d="M346.19 1084.57A149 149 0 0 1 343.95 1092.04L340.91 1091.04A145.8 145.8 0 0 0 343.1 1083.73Z" fill="#2a4f85"/>
<path d="M206.56 886.55A159 159 0 0 1 329.72 950.26L324.59 954.09A152.6 152.6 0 0 0 206.39 892.95Z" fill="#0d5a48"/>
<path d="M335.29 958.21A159 159 0 0 1 346.85 979.06L341.04 981.73A152.6 152.6 0 0 0 329.94 961.72Z" fill="#2aa898"/>
<path d="M350.44 987.48A159 159 0 0 1 355.69 1003.28L349.52 1004.98A152.6 152.6 0 0 0 344.48 989.82Z" fill="#0f806c"/>
<path d="M357.87 1012.17A159 159 0 0 1 360.44 1028.05L354.08 1028.75A152.6 152.6 0 0 0 351.61 1013.51Z" fill="#80e8cc"/>
<path d="M361.4 1045.78A159 159 0 0 1 360.56 1061.84L354.19 1061.19A152.6 152.6 0 0 0 355 1045.77Z" fill="#b8ad4a"/>
<path d="M357.81 1079.1A159 159 0 0 1 347.43 1110.68L341.59 1108.05A152.6 152.6 0 0 0 351.55 1077.75Z" fill="#2062a8"/>
<path d="M343.43 1118.92A159 159 0 0 1 335.75 1132.1L330.38 1128.61A152.6 152.6 0 0 0 337.76 1115.96Z" fill="#2a4f85"/>
<path d="M330.38 1139.85A159 159 0 0 1 313.65 1159.1L309.17 1154.53A152.6 152.6 0 0 0 325.23 1136.06Z" fill="#6db3e3"/>
<path d="M308.59 1163.85A159 159 0 0 1 300.29 1170.79L296.35 1165.75A152.6 152.6 0 0 0 304.31 1159.08Z" fill="#9db4e2"/>
<path d="M287.6 1179.75A159 159 0 0 1 272.35 1188.29L269.53 1182.54A152.6 152.6 0 0 0 284.17 1174.34Z" fill="#fcaaa2"/>
<path d="M264.78 1191.75A159 159 0 0 1 190.2 1204.03L190.69 1197.65A152.6 152.6 0 0 0 262.27 1185.86Z" fill="#d05a48"/>
<path d="M173.7 1201.89A159 159 0 0 1 48.68 1004.88L54.86 1006.52A152.6 152.6 0 0 0 174.85 1195.59Z" fill="#a50a1e"/>
<path d="M51.7 994.79A159 159 0 0 1 70.12 957.28L75.44 960.83A152.6 152.6 0 0 0 57.77 996.83Z" fill="#f7941d"/>
<path d="M76.77 948.05A159 159 0 0 1 104.51 920.21L108.45 925.25A152.6 152.6 0 0 0 81.82 951.97Z" fill="#f7206e"/>
<path d="M118.14 910.66A159 159 0 0 1 133.45 902.23L136.22 908A152.6 152.6 0 0 0 121.53 916.09Z" fill="#2d1b96"/>
<path d="M148.54 895.9A159 159 0 0 1 164.47 891.09L166 897.3A152.6 152.6 0 0 0 150.71 901.92Z" fill="#df9ab8"/>
<path d="M173.15 889.21A159 159 0 0 1 189.37 887.03L189.9 893.41A152.6 152.6 0 0 0 174.33 895.5Z" fill="#f86fa6"/>
<path d="M206.97 858.56A187 187 0 0 1 388.27 1024.98L381.91 1025.68A180.6 180.6 0 0 0 206.81 864.95Z" fill="#0d5a48"/>
<path d="M389.4 1045.5A187 187 0 0 1 388.31 1065.7L381.94 1065A180.6 180.6 0 0 0 383 1045.5Z" fill="#b8ad4a"/>
<path d="M385.18 1085.02A187 187 0 0 1 317.53 1192.86L313.59 1187.81A180.6 180.6 0 0 0 378.92 1083.67Z" fill="#1f5fa8"/>
<path d="M302.6 1203.39A187 187 0 0 1 188.38 1231.97L188.86 1225.59A180.6 180.6 0 0 0 299.17 1197.99Z" fill="#fcb0a8"/>
<path d="M168.32 1229.37A187 187 0 0 1 88.3 897.34L92.21 902.41A180.6 180.6 0 0 0 169.49 1223.08Z" fill="#f02a10"/>
<path d="M103.31 886.92A187 187 0 0 1 121.6 876.86L124.37 882.63A180.6 180.6 0 0 0 106.7 892.34Z" fill="#2d1b96"/>
<path d="M138.75 869.67A187 187 0 0 1 187.73 859.08L188.23 865.46A180.6 180.6 0 0 0 140.93 875.68Z" fill="#c2185b"/>
<g font-family="Liberation Sans, Arial, sans-serif">
<path id="p53" d="M110.02 901.33A171.23 171.23 0 0 1 373.45 1037.58" fill="none"/><text font-size="6.3" font-weight="normal" fill="#111" text-anchor="middle"><textPath href="#p53" startOffset="50%">FLT3 ITD</textPath></text>
<path id="p54" d="M205.39 874.29A171.23 171.23 0 0 1 349.17 1133.69" fill="none"/><text font-size="6.3" font-weight="normal" fill="#111" text-anchor="middle"><textPath href="#p54" startOffset="50%">NRAS</textPath></text>
<path id="p55" d="M236.83 877.77A171.23 171.23 0 0 1 330.45 1159.19" fill="none"/><text font-size="6.3" font-weight="normal" fill="#111" text-anchor="middle"><textPath href="#p55" startOffset="50%">PTPN11</textPath></text>
<path id="p56" d="M263.21 885.43A171.23 171.23 0 0 1 310.62 1178.2" fill="none"/><text font-size="6.3" font-weight="normal" fill="#111" text-anchor="middle"><textPath href="#p56" startOffset="50%">CSF3R</textPath></text>
<path id="p57" d="M282.2 1202.11A175.77 175.77 0 0 0 298.13 898.09" fill="none"/><text font-size="6.3" font-weight="normal" fill="#111" text-anchor="middle"><textPath href="#p57" startOffset="50%">U2AF1</textPath></text>
<path id="p58" d="M238.34 1217.55A175.77 175.77 0 0 0 333.43 928.34" fill="none"/><text font-size="6.3" font-weight="normal" fill="#111" text-anchor="middle"><textPath href="#p58" startOffset="50%">BCORL1</textPath></text>
<path id="p59" d="M201.63 1221.27A175.77 175.77 0 0 0 355 958.28" fill="none"/><text font-size="6.3" font-weight="normal" fill="#111" text-anchor="middle"><textPath href="#p59" startOffset="50%">ASXL1</textPath></text>
<path id="p60" d="M168.86 1218.04A175.77 175.77 0 0 0 368.59 988.28" fill="none"/><text font-size="6.3" font-weight="normal" fill="#111" text-anchor="middle"><textPath href="#p60" startOffset="50%">EZH2</textPath></text>
<path id="p61" d="M142.14 1210.62A175.77 175.77 0 0 0 375.52 1015.13" fill="none"/><text font-size="6.3" font-weight="normal" fill="#111" text-anchor="middle"><textPath href="#p61" startOffset="50%">KD</textPath></text>
<path id="p62" d="M112.53 1196.56A175.77 175.77 0 0 0 378.15 1047.8" fill="none"/><text font-size="6.3" font-weight="normal" fill="#111" text-anchor="middle"><textPath href="#p62" startOffset="50%">PHF6</textPath></text>
<path id="p63" d="M66.48 1156.95A175.77 175.77 0 0 0 366.88 1107.49" fill="none"/><text font-size="6.3" font-weight="normal" fill="#111" text-anchor="middle"><textPath href="#p63" startOffset="50%">WT1</textPath></text>
<path id="p64" d="M46.63 964.07A175.77 175.77 0 0 0 209.76 1221.11" fill="none"/><text font-size="6.3" font-weight="normal" fill="#111" text-anchor="middle"><textPath href="#p64" startOffset="50%">RUNX1</textPath></text>
<path id="p65" d="M60.19 1140.88A171.23 171.23 0 0 1 190.9 874.65" fill="none"/><text font-size="6.3" font-weight="normal" fill="#111" text-anchor="middle"><textPath href="#p65" startOffset="50%">CEBPA</textPath></text>
<path id="p66" d="M37.08 1090.11A171.23 171.23 0 0 1 246.43 880.03" fill="none"/><text font-size="6.3" font-weight="normal" fill="#111" text-anchor="middle"><textPath href="#p66" startOffset="50%">GATA2</textPath></text>
<path id="p67" d="M31.2 1042.06A171.23 171.23 0 0 1 290.97 898.96" fill="none"/><text font-size="6.3" font-weight="normal" fill="#111" text-anchor="middle"><textPath href="#p67" startOffset="50%">RAD21</textPath></text>
<path id="p68" d="M35.69 1006.4A171.23 171.23 0 0 1 319.62 920.68" fill="none"/><text font-size="6.3" font-weight="normal" fill="#111" text-anchor="middle"><textPath href="#p68" startOffset="50%">TET2</textPath></text>
<path id="p69" d="M44.03 980.39A171.23 171.23 0 0 1 337.97 940.91" fill="none"/><text font-size="6.3" font-weight="normal" fill="#111" text-anchor="middle"><textPath href="#p69" startOffset="50%">IDH2</textPath></text>
<path id="p70" d="M143.52 858.2A196.34 196.34 0 0 1 394.05 1088.16" fill="none"/><text font-size="6" font-weight="normal" fill="#111" text-anchor="middle"><textPath href="#p70" startOffset="50%">Activating Signalling</textPath></text>
<path id="p71" d="M294 1226.05A202.46 202.46 0 0 0 312.96 875.9" fill="none"/><text font-size="6" font-weight="normal" fill="#111" text-anchor="middle"><textPath href="#p71" startOffset="50%">Spliceosome</textPath></text>
<path id="p72" d="M194.98 1247.82A202.46 202.46 0 0 0 381.33 950.76" fill="none"/><text font-size="6" font-weight="normal" fill="#111" text-anchor="middle"><textPath href="#p72" startOffset="50%">Epigenetic Modifier</textPath></text>
<path id="p73" d="M56.89 1186.27A202.46 202.46 0 0 0 397.07 1101.14" fill="none"/><text font-size="6" font-weight="normal" fill="#111" text-anchor="middle"><textPath href="#p73" startOffset="50%">Tumor Supressor</textPath></text>
<path id="p74" d="M62.91 898.76A202.46 202.46 0 0 0 145.07 1239.67" fill="none"/><text font-size="6" font-weight="normal" fill="#111" text-anchor="middle"><textPath href="#p74" startOffset="50%">Transcription Factor</textPath></text>
<path id="p75" d="M6.1 1041.39A196.34 196.34 0 0 1 304.11 877.56" fill="none"/><text font-size="6" font-weight="normal" fill="#111" text-anchor="middle"><textPath href="#p75" startOffset="50%">Cohesin Complex</textPath></text>
<path id="p76" d="M15.46 985.48A196.34 196.34 0 0 1 347.85 913.61" fill="none"/><text font-size="6" font-weight="normal" fill="#111" text-anchor="middle"><textPath href="#p76" startOffset="50%">DNA Methylation</textPath></text>
</g>
</svg>
</body></html>
